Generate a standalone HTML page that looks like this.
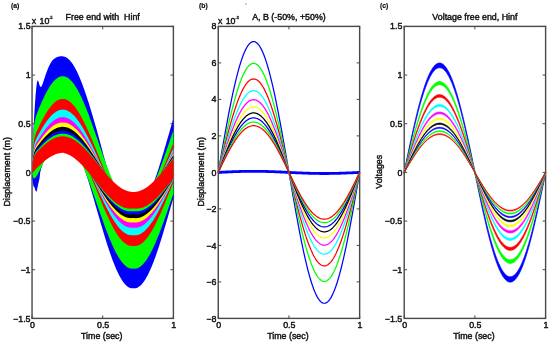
<!DOCTYPE html>
<html><head><meta charset="utf-8"><title>Figure</title>
<style>
html,body{margin:0;padding:0;background:#fff;}
body{width:550px;height:344px;overflow:hidden;}
svg{display:block;font-family:"Liberation Sans",sans-serif;font-size:8.85px;fill:#000;}
text{stroke:#1a1a1a;stroke-width:.45px;stroke-linejoin:round;}
</style></head><body>
<svg width="550" height="344" viewBox="0 0 550 344">
<rect width="550" height="344" fill="#fff"/>
<g style="filter:blur(.35px)">
<rect x="32.05" y="26.4" width="141.35" height="292" fill="none" stroke="#484848" stroke-width="1.4"/><path d="M32.05 26.4h3.0 M173.4 26.4h-3.0" stroke="#484848" stroke-width="1"/><text x="30.55" y="29.3" text-anchor="end">1.5</text><path d="M32.05 75.07h3.0 M173.4 75.07h-3.0" stroke="#484848" stroke-width="1"/><text x="30.55" y="78.04" text-anchor="end">1</text><path d="M32.05 123.73h3.0 M173.4 123.73h-3.0" stroke="#484848" stroke-width="1"/><text x="30.55" y="126.78" text-anchor="end">0.5</text><path d="M32.05 172.4h3.0 M173.4 172.4h-3.0" stroke="#484848" stroke-width="1"/><text x="30.55" y="175.53" text-anchor="end">0</text><path d="M32.05 221.07h3.0 M173.4 221.07h-3.0" stroke="#484848" stroke-width="1"/><text x="30.55" y="224.27" text-anchor="end">−0.5</text><path d="M32.05 269.73h3.0 M173.4 269.73h-3.0" stroke="#484848" stroke-width="1"/><text x="30.55" y="273.01" text-anchor="end">−1</text><path d="M32.05 318.4h3.0 M173.4 318.4h-3.0" stroke="#484848" stroke-width="1"/><text x="30.55" y="321.75" text-anchor="end">−1.5</text><path d="M32.05 318.4v-3.0 M32.05 26.4v3.0" stroke="#484848" stroke-width="1"/><text x="32.45" y="327.8" text-anchor="middle">0</text><path d="M102.73 318.4v-3.0 M102.73 26.4v3.0" stroke="#484848" stroke-width="1"/><text x="103.13" y="327.8" text-anchor="middle">0.5</text><path d="M173.4 318.4v-3.0 M173.4 26.4v3.0" stroke="#484848" stroke-width="1"/><text x="173.8" y="327.8" text-anchor="middle">1</text><text x="101.72" y="338.6" text-anchor="middle">Time (sec)</text><text x="102.72" y="20.3" text-anchor="middle" xml:space="preserve">Free end with  Hinf</text><text x="31.75" y="23.8" xml:space="preserve">x <tspan dx="0.85">10</tspan><tspan dy="-5.2" font-size="3.5">-5</tspan></text><text transform="translate(9.95 171.8) rotate(-90)" text-anchor="middle">Displacement (m)</text><text x="11" y="7.6" font-size="6.8" font-weight="bold" style="stroke-width:.15px">(a)</text>
<rect x="218.25" y="26.4" width="141.4" height="292" fill="none" stroke="#484848" stroke-width="1.4"/><path d="M218.25 26.4h3.0 M359.65 26.4h-3.0" stroke="#484848" stroke-width="1"/><text x="216.45" y="29.3" text-anchor="end">8</text><path d="M218.25 62.9h3.0 M359.65 62.9h-3.0" stroke="#484848" stroke-width="1"/><text x="216.45" y="65.86" text-anchor="end">6</text><path d="M218.25 99.4h3.0 M359.65 99.4h-3.0" stroke="#484848" stroke-width="1"/><text x="216.45" y="102.41" text-anchor="end">4</text><path d="M218.25 135.9h3.0 M359.65 135.9h-3.0" stroke="#484848" stroke-width="1"/><text x="216.45" y="138.97" text-anchor="end">2</text><path d="M218.25 172.4h3.0 M359.65 172.4h-3.0" stroke="#484848" stroke-width="1"/><text x="216.45" y="175.53" text-anchor="end">0</text><path d="M218.25 208.9h3.0 M359.65 208.9h-3.0" stroke="#484848" stroke-width="1"/><text x="216.45" y="212.08" text-anchor="end">−2</text><path d="M218.25 245.4h3.0 M359.65 245.4h-3.0" stroke="#484848" stroke-width="1"/><text x="216.45" y="248.64" text-anchor="end">−4</text><path d="M218.25 281.9h3.0 M359.65 281.9h-3.0" stroke="#484848" stroke-width="1"/><text x="216.45" y="285.19" text-anchor="end">−6</text><path d="M218.25 318.4h3.0 M359.65 318.4h-3.0" stroke="#484848" stroke-width="1"/><text x="216.45" y="321.75" text-anchor="end">−8</text><path d="M218.25 318.4v-3.0 M218.25 26.4v3.0" stroke="#484848" stroke-width="1"/><text x="218.65" y="327.8" text-anchor="middle">0</text><path d="M288.95 318.4v-3.0 M288.95 26.4v3.0" stroke="#484848" stroke-width="1"/><text x="289.35" y="327.8" text-anchor="middle">0.5</text><path d="M359.65 318.4v-3.0 M359.65 26.4v3.0" stroke="#484848" stroke-width="1"/><text x="360.05" y="327.8" text-anchor="middle">1</text><text x="287.95" y="338.6" text-anchor="middle">Time (sec)</text><text x="288.95" y="20.3" text-anchor="middle" xml:space="preserve">A, B (-50%, +50%)</text><text x="217.95" y="23.8" xml:space="preserve">x <tspan dx="0.85">10</tspan><tspan dy="-5.2" font-size="3.5">-3</tspan></text><text transform="translate(204 171.8) rotate(-90)" text-anchor="middle">Displacement (m)</text><text x="199" y="7.6" font-size="6.8" font-weight="bold" style="stroke-width:.15px">(b)</text>
<rect x="404.2" y="26.4" width="141.4" height="292" fill="none" stroke="#484848" stroke-width="1.4"/><path d="M404.2 26.4h3.0 M545.6 26.4h-3.0" stroke="#484848" stroke-width="1"/><text x="402.3" y="29.3" text-anchor="end">1.5</text><path d="M404.2 75.07h3.0 M545.6 75.07h-3.0" stroke="#484848" stroke-width="1"/><text x="402.3" y="78.04" text-anchor="end">1</text><path d="M404.2 123.73h3.0 M545.6 123.73h-3.0" stroke="#484848" stroke-width="1"/><text x="402.3" y="126.78" text-anchor="end">0.5</text><path d="M404.2 172.4h3.0 M545.6 172.4h-3.0" stroke="#484848" stroke-width="1"/><text x="402.3" y="175.53" text-anchor="end">0</text><path d="M404.2 221.07h3.0 M545.6 221.07h-3.0" stroke="#484848" stroke-width="1"/><text x="402.3" y="224.27" text-anchor="end">−0.5</text><path d="M404.2 269.73h3.0 M545.6 269.73h-3.0" stroke="#484848" stroke-width="1"/><text x="402.3" y="273.01" text-anchor="end">−1</text><path d="M404.2 318.4h3.0 M545.6 318.4h-3.0" stroke="#484848" stroke-width="1"/><text x="402.3" y="321.75" text-anchor="end">−1.5</text><path d="M404.2 318.4v-3.0 M404.2 26.4v3.0" stroke="#484848" stroke-width="1"/><text x="404.6" y="327.8" text-anchor="middle">0</text><path d="M474.9 318.4v-3.0 M474.9 26.4v3.0" stroke="#484848" stroke-width="1"/><text x="475.3" y="327.8" text-anchor="middle">0.5</text><path d="M545.6 318.4v-3.0 M545.6 26.4v3.0" stroke="#484848" stroke-width="1"/><text x="546" y="327.8" text-anchor="middle">1</text><text x="473.9" y="338.6" text-anchor="middle">Time (sec)</text><text x="474.9" y="20.3" text-anchor="middle" xml:space="preserve">Voltage free end, Hinf</text><text transform="translate(382.2 171.8) rotate(-90)" text-anchor="middle">Voltages</text><text x="380" y="7.6" font-size="6.8" font-weight="bold" style="stroke-width:.15px">(c)</text>
<g><polygon fill="#0000ff" points="32.8,160 33.2,180 34.4,187 35.6,191 36.6,191.8 37.8,186 39.6,178 41,165 38,150"/><polygon fill="#0000ff" points="32.05,172.02 32.76,146.54 33.46,129.35 34.17,116.39 34.88,105.36 35.58,95.52 36.29,87.42 37,82.15 37.7,80.31 38.41,81.33 39.12,83.72 39.82,85.89 40.53,86.92 41.24,86.65 41.94,85.42 42.65,83.65 43.36,81.63 44.06,79.54 44.77,77.44 45.48,75.37 46.19,73.36 46.89,71.42 47.6,69.57 48.31,67.82 49.01,66.2 49.72,64.72 50.43,63.39 51.13,62.21 51.84,61.18 52.55,60.29 53.25,59.54 53.96,58.91 54.67,58.38 55.37,57.94 56.08,57.57 56.79,57.26 57.49,57 58.2,56.79 58.91,56.61 59.61,56.47 60.32,56.36 61.03,56.3 61.73,56.28 62.44,56.31 63.15,56.39 63.85,56.53 64.56,56.73 65.27,57 65.97,57.33 66.68,57.74 67.39,58.21 68.09,58.76 68.8,59.38 69.51,60.07 70.21,60.84 70.92,61.68 71.63,62.59 72.33,63.57 73.04,64.62 73.75,65.73 74.46,66.92 75.16,68.17 75.87,69.49 76.58,70.87 77.28,72.32 77.99,73.82 78.7,75.39 79.4,77.01 80.11,78.69 80.82,80.43 81.52,82.21 82.23,84.05 82.94,85.94 83.64,87.88 84.35,89.87 85.06,91.89 85.76,93.96 86.47,96.07 87.18,98.22 87.88,100.4 88.59,102.62 89.3,104.87 90,107.14 90.71,109.45 91.42,111.78 92.12,114.13 92.83,116.5 93.54,118.89 94.24,121.29 94.95,123.71 95.66,126.14 96.36,128.6 97.07,131.1 97.78,133.65 98.48,136.23 99.19,138.84 99.9,141.47 100.6,144.11 101.31,146.75 102.02,149.39 102.73,152.03 103.43,154.65 104.14,157.24 104.85,159.81 105.55,162.34 106.26,164.82 106.97,167.25 107.67,169.63 108.38,171.94 109.09,174.18 109.79,176.35 110.5,178.45 111.21,180.51 111.91,182.53 112.62,184.5 113.33,186.43 114.03,188.31 114.74,190.14 115.45,191.92 116.15,193.64 116.86,195.31 117.57,196.92 118.27,198.47 118.98,199.95 119.69,201.36 120.39,202.71 121.1,203.99 121.81,205.2 122.51,206.33 123.22,207.4 123.93,208.39 124.63,209.31 125.34,210.16 126.05,210.93 126.75,211.62 127.46,212.24 128.17,212.78 128.87,213.24 129.58,213.63 130.29,213.94 131,214.17 131.7,214.32 132.41,214.4 133.12,214.39 133.82,214.31 134.53,214.15 135.24,213.91 135.94,213.6 136.65,213.21 137.36,212.74 138.06,212.2 138.77,211.58 139.48,210.88 140.18,210.12 140.89,209.28 141.6,208.36 142.3,207.38 143.01,206.33 143.72,205.21 144.42,204.02 145.13,202.76 145.84,201.44 146.54,200.06 147.25,198.61 147.96,197.11 148.66,195.54 149.37,193.92 150.08,192.24 150.78,190.51 151.49,188.73 152.2,186.89 152.9,185.01 153.61,183.09 154.32,181.11 155.02,179.1 155.73,177.05 156.44,174.96 157.14,172.83 157.85,170.67 158.56,168.48 159.27,166.26 159.97,164.01 160.68,161.73 161.39,159.43 162.09,157.1 162.8,154.75 163.51,152.38 164.21,149.99 164.92,147.59 165.63,145.17 166.33,142.74 167.04,140.31 167.75,137.86 168.45,135.42 169.16,132.97 169.87,130.53 170.57,128.09 171.28,125.65 171.99,123.23 172.69,120.81 173.4,118.41 173.4,197.85 172.69,200.28 171.99,202.71 171.28,205.15 170.57,207.6 169.87,210.04 169.16,212.49 168.45,214.94 167.75,217.38 167.04,219.82 166.33,222.24 165.63,224.66 164.92,227.06 164.21,229.44 163.51,231.8 162.8,234.15 162.09,236.47 161.39,238.76 160.68,241.03 159.97,243.26 159.27,245.47 158.56,247.64 157.85,249.77 157.14,251.86 156.44,253.91 155.73,255.92 155.02,257.89 154.32,259.8 153.61,261.67 152.9,263.49 152.2,265.26 151.49,266.97 150.78,268.62 150.08,270.22 149.37,271.76 148.66,273.24 147.96,274.65 147.25,276.01 146.54,277.29 145.84,278.52 145.13,279.67 144.42,280.76 143.72,281.77 143.01,282.72 142.3,283.59 141.6,284.4 140.89,285.13 140.18,285.78 139.48,286.36 138.77,286.87 138.06,287.3 137.36,287.66 136.65,287.93 135.94,288.14 135.24,288.26 134.53,288.31 133.82,288.28 133.12,288.27 132.41,288.31 131.7,288.28 131,288.17 130.29,287.98 129.58,287.72 128.87,287.38 128.17,286.96 127.46,286.47 126.75,285.9 126.05,285.26 125.34,284.55 124.63,283.76 123.93,282.9 123.22,281.97 122.51,280.97 121.81,279.89 121.1,278.75 120.39,277.54 119.69,276.27 118.98,274.93 118.27,273.53 117.57,272.06 116.86,270.53 116.15,268.95 115.45,267.3 114.74,265.6 114.03,263.85 113.33,262.04 112.62,260.18 111.91,258.27 111.21,256.32 110.5,254.32 109.79,252.27 109.09,250.19 108.38,248.07 107.67,245.9 106.97,243.71 106.26,241.48 105.55,239.22 104.85,236.93 104.14,234.61 103.43,232.27 102.73,229.91 102.02,227.53 101.31,225.14 100.6,222.73 99.9,220.3 99.19,217.87 98.48,215.43 97.78,212.98 97.07,210.53 96.36,208.09 95.66,205.64 94.95,203.2 94.24,200.76 93.54,198.34 92.83,195.92 92.12,193.53 91.42,191.14 90.71,188.78 90,186.44 89.3,184.12 88.59,181.83 87.88,179.56 87.18,177.33 86.47,175.13 85.76,172.96 85.06,170.83 84.35,168.74 83.64,166.69 82.94,164.68 82.23,162.72 81.52,160.81 80.82,158.94 80.11,157.13 79.4,155.36 78.7,153.66 77.99,152 77.28,150.41 76.58,148.87 75.87,147.4 75.16,145.99 74.46,144.64 73.75,143.35 73.04,142.14 72.33,140.99 71.63,139.9 70.92,138.89 70.21,137.95 69.51,137.08 68.8,136.28 68.09,135.55 67.39,134.9 66.68,134.33 65.97,133.82 65.27,133.4 64.56,133.05 63.85,132.77 63.15,132.58 62.44,132.54 61.73,132.73 61.03,132.99 60.32,133.32 59.61,133.73 58.91,134.22 58.2,134.78 57.49,135.42 56.79,136.13 56.08,136.91 55.37,137.77 54.67,138.7 53.96,139.7 53.25,140.76 52.55,141.9 51.84,143.11 51.13,144.38 50.43,145.71 49.72,147.11 49.01,148.57 48.31,150.1 47.6,151.68 46.89,153.32 46.19,155.02 45.48,156.77 44.77,158.58 44.06,160.43 43.36,162.34 42.65,164.29 41.94,166.29 41.24,168.33 40.53,170.41 39.82,172.53 39.12,174.68 38.41,176.86 37.7,179.03 37,181.19 36.29,183.26 35.58,185.13 34.88,186.59 34.17,187.22 33.46,186.25 32.76,182.22 32.05,172.4"/><polygon fill="#00ff00" points="32.05,172.4 32.76,145.08 33.46,131.73 34.17,124.72 34.88,120.57 35.58,117.72 36.29,115.46 37,113.47 37.7,111.63 38.41,109.85 39.12,108.12 39.82,106.43 40.53,104.76 41.24,103.13 41.94,101.54 42.65,99.97 43.36,98.45 44.06,96.96 44.77,95.51 45.48,94.1 46.19,92.74 46.89,91.42 47.6,90.15 48.31,88.92 49.01,87.75 49.72,86.62 50.43,85.55 51.13,84.53 51.84,83.57 52.55,82.66 53.25,81.81 53.96,81.01 54.67,80.28 55.37,79.6 56.08,78.98 56.79,78.42 57.49,77.93 58.2,77.5 58.91,77.12 59.61,76.82 60.32,76.57 61.03,76.39 61.73,76.27 62.44,76.21 63.15,76.22 63.85,76.3 64.56,76.43 65.27,76.63 65.97,76.9 66.68,77.22 67.39,77.61 68.09,78.06 68.8,78.58 69.51,79.15 70.21,79.79 70.92,80.49 71.63,81.25 72.33,82.06 73.04,82.94 73.75,83.87 74.46,84.86 75.16,85.9 75.87,87 76.58,88.15 77.28,89.35 77.99,90.61 78.7,91.91 79.4,93.26 80.11,94.67 80.82,96.11 81.52,97.6 82.23,99.14 82.94,100.71 83.64,102.32 84.35,103.98 85.06,105.67 85.76,107.39 86.47,109.15 87.18,110.94 87.88,112.76 88.59,114.61 89.3,116.48 90,118.38 90.71,120.3 91.42,122.24 92.12,124.2 92.83,126.17 93.54,128.16 94.24,130.17 94.95,132.18 95.66,134.21 96.36,136.24 97.07,138.27 97.78,140.31 98.48,142.35 99.19,144.38 99.9,146.42 100.6,148.45 101.31,150.47 102.02,152.48 102.73,154.48 103.43,156.47 104.14,158.44 104.85,160.4 105.55,162.33 106.26,164.25 106.97,166.14 107.67,168.01 108.38,169.85 109.09,171.67 109.79,173.45 110.5,175.2 111.21,176.92 111.91,178.6 112.62,180.25 113.33,181.85 114.03,183.42 114.74,184.95 115.45,186.43 116.15,187.86 116.86,189.25 117.57,190.6 118.27,191.9 118.98,193.16 119.69,194.36 120.39,195.52 121.1,196.63 121.81,197.69 122.51,198.7 123.22,199.65 123.93,200.55 124.63,201.39 125.34,202.18 126.05,202.91 126.75,203.58 127.46,204.19 128.17,204.74 128.87,205.24 129.58,205.67 130.29,206.04 131,206.35 131.7,206.6 132.41,206.78 133.12,206.9 133.82,206.96 134.53,206.96 135.24,206.89 135.94,206.76 136.65,206.56 137.36,206.31 138.06,205.99 138.77,205.6 139.48,205.16 140.18,204.65 140.89,204.08 141.6,203.45 142.3,202.76 143.01,202.01 143.72,201.2 144.42,200.33 145.13,199.41 145.84,198.42 146.54,197.38 147.25,196.29 147.96,195.14 148.66,193.94 149.37,192.68 150.08,191.38 150.78,190.02 151.49,188.62 152.2,187.17 152.9,185.67 153.61,184.13 154.32,182.54 155.02,180.92 155.73,179.25 156.44,177.54 157.14,175.8 157.85,174.02 158.56,172.21 159.27,170.37 159.97,168.49 160.68,166.59 161.39,164.67 162.09,162.73 162.8,160.77 163.51,158.8 164.21,156.81 164.92,154.8 165.63,152.79 166.33,150.77 167.04,148.74 167.75,146.7 168.45,144.66 169.16,142.63 169.87,140.59 170.57,138.55 171.28,136.53 171.99,134.5 172.69,132.49 173.4,130.49 173.4,193.84 172.69,195.87 171.99,197.9 171.28,199.93 170.57,201.97 169.87,204.01 169.16,206.05 168.45,208.09 167.75,210.13 167.04,212.16 166.33,214.18 165.63,216.18 164.92,218.18 164.21,220.16 163.51,222.13 162.8,224.08 162.09,226.01 161.39,227.91 160.68,229.8 159.97,231.65 159.27,233.48 158.56,235.28 157.85,237.05 157.14,238.78 156.44,240.48 155.73,242.15 155.02,243.77 154.32,245.36 153.61,246.91 152.9,248.41 152.2,249.87 151.49,251.28 150.78,252.65 150.08,253.96 149.37,255.23 148.66,256.45 147.96,257.62 147.25,258.73 146.54,259.79 145.84,260.79 145.13,261.73 144.42,262.62 143.72,263.45 143.01,264.22 142.3,264.94 141.6,265.59 140.89,266.18 140.18,266.71 139.48,267.17 138.77,267.58 138.06,267.92 137.36,268.19 136.65,268.41 135.94,268.56 135.24,268.64 134.53,268.66 133.82,268.62 133.12,268.61 132.41,268.66 131.7,268.65 131,268.58 130.29,268.44 129.58,268.24 128.87,267.98 128.17,267.65 127.46,267.26 126.75,266.8 126.05,266.29 125.34,265.71 124.63,265.07 123.93,264.37 123.22,263.61 122.51,262.79 121.81,261.92 121.1,260.98 120.39,259.99 119.69,258.94 118.98,257.84 118.27,256.69 117.57,255.48 116.86,254.22 116.15,252.91 115.45,251.56 114.74,250.15 114.03,248.7 113.33,247.21 112.62,245.67 111.91,244.09 111.21,242.48 110.5,240.82 109.79,239.13 109.09,237.4 108.38,235.64 107.67,233.84 106.97,232.02 106.26,230.17 105.55,228.29 104.85,226.39 104.14,224.47 103.43,222.52 102.73,220.56 102.02,218.58 101.31,216.58 100.6,214.58 99.9,212.56 99.19,210.53 98.48,208.5 97.78,206.46 97.07,204.42 96.36,202.38 95.66,200.34 94.95,198.3 94.24,196.27 93.54,194.25 92.83,192.23 92.12,190.23 91.42,188.24 90.71,186.26 90,184.3 89.3,182.36 88.59,180.45 87.88,178.55 87.18,176.68 86.47,174.84 85.76,173.02 85.06,171.24 84.35,169.48 83.64,167.77 82.94,166.08 82.23,164.44 81.52,162.83 80.82,161.26 80.11,159.73 79.4,158.25 78.7,156.81 77.99,155.42 77.28,154.08 76.58,152.78 75.87,151.54 75.16,150.35 74.46,149.21 73.75,148.12 73.04,147.09 72.33,146.11 71.63,145.19 70.92,144.33 70.21,143.53 69.51,142.78 68.8,142.1 68.09,141.48 67.39,140.92 66.68,140.42 65.97,139.98 65.27,139.6 64.56,139.29 63.85,139.04 63.15,138.86 62.44,138.83 61.73,139 61.03,139.23 60.32,139.52 59.61,139.88 58.91,140.3 58.2,140.78 57.49,141.33 56.79,141.93 56.08,142.59 55.37,143.32 54.67,144.1 53.96,144.93 53.25,145.83 52.55,146.77 51.84,147.77 51.13,148.82 50.43,149.92 49.72,151.07 49.01,152.26 48.31,153.5 47.6,154.78 46.89,156.09 46.19,157.44 45.48,158.82 44.77,160.22 44.06,161.65 43.36,163.1 42.65,164.55 41.94,166.01 41.24,167.47 40.53,168.91 39.82,170.33 39.12,171.71 38.41,173.05 37.7,174.32 37,175.51 36.29,176.58 35.58,177.49 34.88,178.16 34.17,178.44 33.46,178.05 32.76,176.4 32.05,172.4"/><polygon fill="#00ff00" points="33,165 33.2,175.5 35,174 37.5,169 39,165"/><polygon fill="#ff0000" points="32.05,172.4 32.76,153.94 33.46,144.67 34.17,139.61 34.88,136.48 35.58,134.22 36.29,132.37 37,130.72 37.7,129.15 38.41,127.65 39.12,126.17 39.82,124.73 40.53,123.31 41.24,121.92 41.94,120.56 42.65,119.22 43.36,117.92 44.06,116.64 44.77,115.4 45.48,114.2 46.19,113.03 46.89,111.91 47.6,110.82 48.31,109.77 49.01,108.76 49.72,107.8 50.43,106.88 51.13,106.01 51.84,105.19 52.55,104.41 53.25,103.68 53.96,103 54.67,102.37 55.37,101.79 56.08,101.26 56.79,100.78 57.49,100.36 58.2,99.99 58.91,99.67 59.61,99.41 60.32,99.2 61.03,99.04 61.73,98.94 62.44,98.89 63.15,98.9 63.85,98.96 64.56,99.08 65.27,99.25 65.97,99.48 66.68,99.76 67.39,100.09 68.09,100.48 68.8,100.92 69.51,101.41 70.21,101.96 70.92,102.56 71.63,103.21 72.33,103.91 73.04,104.66 73.75,105.46 74.46,106.3 75.16,107.2 75.87,108.14 76.58,109.13 77.28,110.16 77.99,111.23 78.7,112.35 79.4,113.51 80.11,114.71 80.82,115.95 81.52,117.23 82.23,118.54 82.94,119.89 83.64,121.28 84.35,122.69 85.06,124.14 85.76,125.62 86.47,127.13 87.18,128.66 87.88,130.22 88.59,131.8 89.3,133.41 90,135.04 90.71,136.68 91.42,138.34 92.12,140.02 92.83,141.72 93.54,143.42 94.24,145.14 94.95,146.87 95.66,148.6 96.36,150.34 97.07,152.09 97.78,153.83 98.48,155.58 99.19,157.33 99.9,159.07 100.6,160.81 101.31,162.54 102.02,164.27 102.73,165.98 103.43,167.69 104.14,169.38 104.85,171.05 105.55,172.71 106.26,174.36 106.97,175.98 107.67,177.58 108.38,179.16 109.09,180.71 109.79,182.24 110.5,183.74 111.21,185.21 111.91,186.66 112.62,188.07 113.33,189.44 114.03,190.79 114.74,192.09 115.45,193.36 116.15,194.6 116.86,195.79 117.57,196.94 118.27,198.05 118.98,199.11 119.69,200.14 120.39,201.11 121.1,202.05 121.81,202.93 122.51,203.77 123.22,204.56 123.93,205.3 124.63,205.98 125.34,206.62 126.05,207.21 126.75,207.74 127.46,208.23 128.17,208.66 128.87,209.03 129.58,209.35 130.29,209.62 131,209.83 131.7,209.99 132.41,210.1 133.12,210.15 133.82,210.14 134.53,210.08 135.24,209.97 135.94,209.8 136.65,209.57 137.36,209.29 138.06,208.96 138.77,208.57 139.48,208.13 140.18,207.64 140.89,207.1 141.6,206.5 142.3,205.85 143.01,205.15 143.72,204.4 144.42,203.6 145.13,202.76 145.84,201.86 146.54,200.92 147.25,199.94 147.96,198.9 148.66,197.83 149.37,196.71 150.08,195.55 150.78,194.35 151.49,193.11 152.2,191.84 152.9,190.52 153.61,189.17 154.32,187.79 155.02,186.37 155.73,184.92 156.44,183.44 157.14,181.94 157.85,180.4 158.56,178.84 159.27,177.26 159.97,175.66 160.68,174.03 161.39,172.38 162.09,170.72 162.8,169.04 163.51,167.35 164.21,165.64 164.92,163.92 165.63,162.2 166.33,160.46 167.04,158.72 167.75,156.98 168.45,155.23 169.16,153.48 169.87,151.74 170.57,149.99 171.28,148.26 171.99,146.52 172.69,144.8 173.4,143.08 173.4,182.34 172.69,184.08 171.99,185.82 171.28,187.57 170.57,189.32 169.87,191.07 169.16,192.82 168.45,194.57 167.75,196.31 167.04,198.05 166.33,199.78 165.63,201.5 164.92,203.21 164.21,204.9 163.51,206.59 162.8,208.25 162.09,209.9 161.39,211.53 160.68,213.14 159.97,214.72 159.27,216.28 158.56,217.82 157.85,219.33 157.14,220.81 156.44,222.26 155.73,223.67 155.02,225.06 154.32,226.41 153.61,227.72 152.9,229 152.2,230.24 151.49,231.44 150.78,232.6 150.08,233.72 149.37,234.79 148.66,235.83 147.96,236.81 147.25,237.75 146.54,238.64 145.84,239.49 145.13,240.29 144.42,241.03 143.72,241.73 143.01,242.38 142.3,242.97 141.6,243.52 140.89,244.01 140.18,244.45 139.48,244.83 138.77,245.16 138.06,245.44 137.36,245.66 136.65,245.83 135.94,245.94 135.24,246 134.53,246 133.82,245.94 133.12,245.93 132.41,245.99 131.7,246 131,245.95 130.29,245.85 129.58,245.7 128.87,245.49 128.17,245.22 127.46,244.9 126.75,244.53 126.05,244.1 125.34,243.62 124.63,243.09 123.93,242.5 123.22,241.87 122.51,241.18 121.81,240.44 121.1,239.65 120.39,238.82 119.69,237.93 118.98,237 118.27,236.03 117.57,235 116.86,233.94 116.15,232.83 115.45,231.68 114.74,230.49 114.03,229.25 113.33,227.98 112.62,226.68 111.91,225.33 111.21,223.95 110.5,222.54 109.79,221.1 109.09,219.63 108.38,218.12 107.67,216.59 106.97,215.04 106.26,213.46 105.55,211.85 104.85,210.23 104.14,208.58 103.43,206.92 102.73,205.24 102.02,203.55 101.31,201.84 100.6,200.12 99.9,198.39 99.19,196.66 98.48,194.92 97.78,193.17 97.07,191.42 96.36,189.67 95.66,187.92 94.95,186.17 94.24,184.43 93.54,182.69 92.83,180.96 92.12,179.24 91.42,177.53 90.71,175.83 90,174.14 89.3,172.48 88.59,170.83 87.88,169.19 87.18,167.58 86.47,166 85.76,164.43 85.06,162.89 84.35,161.38 83.64,159.9 82.94,158.45 82.23,157.02 81.52,155.64 80.82,154.28 80.11,152.96 79.4,151.68 78.7,150.44 77.99,149.23 77.28,148.07 76.58,146.94 75.87,145.86 75.16,144.83 74.46,143.84 73.75,142.89 73.04,141.99 72.33,141.14 71.63,140.34 70.92,139.58 70.21,138.88 69.51,138.23 68.8,137.63 68.09,137.08 67.39,136.58 66.68,136.14 65.97,135.75 65.27,135.41 64.56,135.13 63.85,134.9 63.15,134.73 62.44,134.64 61.73,134.72 61.03,134.86 60.32,135.04 59.61,135.27 58.91,135.55 58.2,135.88 57.49,136.26 56.79,136.69 56.08,137.17 55.37,137.7 54.67,138.27 53.96,138.9 53.25,139.57 52.55,140.29 51.84,141.06 51.13,141.87 50.43,142.73 49.72,143.63 49.01,144.57 48.31,145.55 47.6,146.58 46.89,147.64 46.19,148.75 45.48,149.89 44.77,151.06 44.06,152.27 43.36,153.52 42.65,154.8 41.94,156.1 41.24,157.44 40.53,158.8 39.82,160.2 39.12,161.61 38.41,163.05 37.7,164.52 37,166.01 36.29,167.52 35.58,169.06 34.88,170.06 34.17,170.83 33.46,171.59 32.76,172.25 32.05,172.4"/><polygon fill="#00ffff" points="32.05,172.4 32.76,157.03 33.46,149.27 34.17,145 34.88,142.33 35.58,140.4 36.29,138.8 37,137.37 37.7,136.01 38.41,134.7 39.12,133.42 39.82,132.16 40.53,130.92 41.24,129.71 41.94,128.52 42.65,127.35 43.36,126.22 44.06,125.11 44.77,124.02 45.48,122.97 46.19,121.95 46.89,120.97 47.6,120.02 48.31,119.1 49.01,118.23 49.72,117.39 50.43,116.58 51.13,115.82 51.84,115.1 52.55,114.42 53.25,113.78 53.96,113.19 54.67,112.64 55.37,112.13 56.08,111.67 56.79,111.25 57.49,110.88 58.2,110.56 58.91,110.28 59.61,110.05 60.32,109.87 61.03,109.73 61.73,109.64 62.44,109.6 63.15,109.61 63.85,109.66 64.56,109.76 65.27,109.92 65.97,110.11 66.68,110.36 67.39,110.65 68.09,110.99 68.8,111.38 69.51,111.81 70.21,112.29 70.92,112.81 71.63,113.38 72.33,113.99 73.04,114.64 73.75,115.34 74.46,116.08 75.16,116.87 75.87,117.69 76.58,118.55 77.28,119.46 77.99,120.4 78.7,121.38 79.4,122.39 80.11,123.44 80.82,124.53 81.52,125.65 82.23,126.8 82.94,127.98 83.64,129.19 84.35,130.43 85.06,131.69 85.76,132.99 86.47,134.31 87.18,135.65 87.88,137.01 88.59,138.4 89.3,139.8 90,141.23 90.71,142.67 91.42,144.12 92.12,145.59 92.83,147.07 93.54,148.57 94.24,150.07 94.95,151.58 95.66,153.1 96.36,154.62 97.07,156.15 97.78,157.67 98.48,159.2 99.19,160.73 99.9,162.26 100.6,163.78 101.31,165.3 102.02,166.8 102.73,168.31 103.43,169.8 104.14,171.28 104.85,172.74 105.55,174.2 106.26,175.63 106.97,177.05 107.67,178.45 108.38,179.83 109.09,181.19 109.79,182.53 110.5,183.85 111.21,185.13 111.91,186.4 112.62,187.63 113.33,188.83 114.03,190.01 114.74,191.15 115.45,192.26 116.15,193.34 116.86,194.38 117.57,195.39 118.27,196.36 118.98,197.3 119.69,198.19 120.39,199.05 121.1,199.86 121.81,200.64 122.51,201.37 123.22,202.06 123.93,202.7 124.63,203.31 125.34,203.87 126.05,204.38 126.75,204.85 127.46,205.27 128.17,205.64 128.87,205.97 129.58,206.25 130.29,206.49 131,206.68 131.7,206.82 132.41,206.91 133.12,206.95 133.82,206.94 134.53,206.89 135.24,206.79 135.94,206.64 136.65,206.45 137.36,206.2 138.06,205.91 138.77,205.57 139.48,205.19 140.18,204.76 140.89,204.28 141.6,203.76 142.3,203.19 143.01,202.58 143.72,201.92 144.42,201.22 145.13,200.48 145.84,199.7 146.54,198.88 147.25,198.02 147.96,197.11 148.66,196.17 149.37,195.19 150.08,194.18 150.78,193.13 151.49,192.04 152.2,190.93 152.9,189.78 153.61,188.6 154.32,187.38 155.02,186.15 155.73,184.88 156.44,183.58 157.14,182.27 157.85,180.92 158.56,179.56 159.27,178.17 159.97,176.77 160.68,175.35 161.39,173.91 162.09,172.45 162.8,170.98 163.51,169.5 164.21,168.01 164.92,166.5 165.63,164.99 166.33,163.48 167.04,161.95 167.75,160.43 168.45,158.9 169.16,157.37 169.87,155.84 170.57,154.32 171.28,152.79 171.99,151.28 172.69,149.77 173.4,148.27 173.4,180.02 172.69,181.54 171.99,183.07 171.28,184.6 170.57,186.13 169.87,187.66 169.16,189.2 168.45,190.73 167.75,192.25 167.04,193.77 166.33,195.28 165.63,196.79 164.92,198.28 164.21,199.76 163.51,201.23 162.8,202.68 162.09,204.12 161.39,205.54 160.68,206.95 159.97,208.33 159.27,209.69 158.56,211.03 157.85,212.34 157.14,213.63 156.44,214.89 155.73,216.12 155.02,217.32 154.32,218.5 153.61,219.64 152.9,220.75 152.2,221.82 151.49,222.87 150.78,223.87 150.08,224.84 149.37,225.77 148.66,226.66 147.96,227.51 147.25,228.32 146.54,229.09 145.84,229.82 145.13,230.5 144.42,231.15 143.72,231.74 143.01,232.3 142.3,232.81 141.6,233.27 140.89,233.68 140.18,234.05 139.48,234.38 138.77,234.65 138.06,234.88 137.36,235.06 136.65,235.19 135.94,235.28 135.24,235.31 134.53,235.3 133.82,235.24 133.12,235.22 132.41,235.29 131.7,235.31 131,235.29 130.29,235.21 129.58,235.09 128.87,234.92 128.17,234.7 127.46,234.43 126.75,234.12 126.05,233.76 125.34,233.35 124.63,232.9 123.93,232.4 123.22,231.86 122.51,231.27 121.81,230.64 121.1,229.96 120.39,229.24 119.69,228.48 118.98,227.68 118.27,226.83 117.57,225.95 116.86,225.03 116.15,224.07 115.45,223.07 114.74,222.04 114.03,220.97 113.33,219.86 112.62,218.73 111.91,217.56 111.21,216.36 110.5,215.14 109.79,213.88 109.09,212.6 108.38,211.29 107.67,209.96 106.97,208.6 106.26,207.22 105.55,205.83 104.85,204.41 104.14,202.97 103.43,201.52 102.73,200.06 102.02,198.58 101.31,197.09 100.6,195.58 99.9,194.07 99.19,192.56 98.48,191.03 97.78,189.5 97.07,187.97 96.36,186.44 95.66,184.91 94.95,183.37 94.24,181.85 93.54,180.32 92.83,178.81 92.12,177.3 91.42,175.8 90.71,174.3 90,172.83 89.3,171.36 88.59,169.91 87.88,168.48 87.18,167.06 86.47,165.67 85.76,164.29 85.06,162.94 84.35,161.61 83.64,160.3 82.94,159.02 82.23,157.77 81.52,156.54 80.82,155.35 80.11,154.19 79.4,153.05 78.7,151.95 77.99,150.89 77.28,149.86 76.58,148.86 75.87,147.91 75.16,146.99 74.46,146.11 73.75,145.27 73.04,144.47 72.33,143.71 71.63,143 70.92,142.33 70.21,141.7 69.51,141.11 68.8,140.57 68.09,140.08 67.39,139.63 66.68,139.23 65.97,138.87 65.27,138.56 64.56,138.3 63.85,138.09 63.15,137.92 62.44,137.84 61.73,137.92 61.03,138.04 60.32,138.2 59.61,138.4 58.91,138.65 58.2,138.94 57.49,139.27 56.79,139.64 56.08,140.06 55.37,140.53 54.67,141.03 53.96,141.58 53.25,142.16 52.55,142.79 51.84,143.46 51.13,144.17 50.43,144.91 49.72,145.7 49.01,146.52 48.31,147.37 47.6,148.26 46.89,149.19 46.19,150.15 45.48,151.14 44.77,152.16 44.06,153.22 43.36,154.3 42.65,155.41 41.94,156.54 41.24,157.7 40.53,158.89 39.82,160.09 39.12,161.32 38.41,162.57 37.7,163.85 37,165.14 36.29,166.46 35.58,167.8 34.88,169.18 34.17,170.56 33.46,171.59 32.76,172.25 32.05,172.4"/><polygon fill="#ff00ff" points="32.05,172.4 32.76,159.02 33.46,152.25 34.17,148.52 34.88,146.18 35.58,144.48 36.29,143.08 37,141.81 37.7,140.61 38.41,139.45 39.12,138.32 39.82,137.2 40.53,136.11 41.24,135.03 41.94,133.98 42.65,132.95 43.36,131.94 44.06,130.95 44.77,129.99 45.48,129.06 46.19,128.16 46.89,127.28 47.6,126.44 48.31,125.63 49.01,124.85 49.72,124.1 50.43,123.39 51.13,122.72 51.84,122.08 52.55,121.47 53.25,120.91 53.96,120.38 54.67,119.89 55.37,119.44 56.08,119.03 56.79,118.66 57.49,118.33 58.2,118.04 58.91,117.8 59.61,117.59 60.32,117.43 61.03,117.31 61.73,117.23 62.44,117.19 63.15,117.2 63.85,117.25 64.56,117.34 65.27,117.47 65.97,117.65 66.68,117.87 67.39,118.13 68.09,118.43 68.8,118.77 69.51,119.16 70.21,119.58 70.92,120.05 71.63,120.55 72.33,121.1 73.04,121.68 73.75,122.3 74.46,122.96 75.16,123.65 75.87,124.39 76.58,125.15 77.28,125.96 77.99,126.79 78.7,127.66 79.4,128.56 80.11,129.5 80.82,130.46 81.52,131.46 82.23,132.48 82.94,133.53 83.64,134.61 84.35,135.71 85.06,136.83 85.76,137.98 86.47,139.16 87.18,140.35 87.88,141.56 88.59,142.79 89.3,144.04 90,145.31 90.71,146.59 91.42,147.88 92.12,149.19 92.83,150.5 93.54,151.83 94.24,153.17 94.95,154.51 95.66,155.86 96.36,157.21 97.07,158.57 97.78,159.93 98.48,161.29 99.19,162.64 99.9,164 100.6,165.35 101.31,166.7 102.02,168.04 102.73,169.38 103.43,170.7 104.14,172.02 104.85,173.32 105.55,174.61 106.26,175.89 106.97,177.15 107.67,178.4 108.38,179.62 109.09,180.83 109.79,182.02 110.5,183.19 111.21,184.34 111.91,185.46 112.62,186.55 113.33,187.62 114.03,188.67 114.74,189.69 115.45,190.67 116.15,191.63 116.86,192.56 117.57,193.45 118.27,194.32 118.98,195.15 119.69,195.94 120.39,196.7 121.1,197.43 121.81,198.11 122.51,198.77 123.22,199.38 123.93,199.95 124.63,200.49 125.34,200.99 126.05,201.44 126.75,201.86 127.46,202.23 128.17,202.57 128.87,202.86 129.58,203.11 130.29,203.32 131,203.48 131.7,203.61 132.41,203.69 133.12,203.73 133.82,203.72 134.53,203.68 135.24,203.59 135.94,203.45 136.65,203.28 137.36,203.06 138.06,202.8 138.77,202.5 139.48,202.16 140.18,201.78 140.89,201.35 141.6,200.89 142.3,200.39 143.01,199.84 143.72,199.26 144.42,198.64 145.13,197.98 145.84,197.28 146.54,196.55 147.25,195.79 147.96,194.98 148.66,194.15 149.37,193.28 150.08,192.38 150.78,191.44 151.49,190.48 152.2,189.48 152.9,188.46 153.61,187.41 154.32,186.34 155.02,185.23 155.73,184.11 156.44,182.96 157.14,181.79 157.85,180.59 158.56,179.38 159.27,178.15 159.97,176.9 160.68,175.64 161.39,174.36 162.09,173.06 162.8,171.76 163.51,170.44 164.21,169.11 164.92,167.77 165.63,166.43 166.33,165.08 167.04,163.73 167.75,162.37 168.45,161.01 169.16,159.66 169.87,158.3 170.57,156.94 171.28,155.59 171.99,154.24 172.69,152.9 173.4,151.57 173.4,178.95 172.69,180.3 171.99,181.66 171.28,183.02 170.57,184.39 169.87,185.75 169.16,187.11 168.45,188.47 167.75,189.83 167.04,191.18 166.33,192.52 165.63,193.86 164.92,195.18 164.21,196.5 163.51,197.8 162.8,199.09 162.09,200.36 161.39,201.62 160.68,202.87 159.97,204.09 159.27,205.29 158.56,206.48 157.85,207.64 157.14,208.78 156.44,209.89 155.73,210.98 155.02,212.04 154.32,213.08 153.61,214.09 152.9,215.07 152.2,216.01 151.49,216.93 150.78,217.81 150.08,218.67 149.37,219.48 148.66,220.26 147.96,221.01 147.25,221.72 146.54,222.4 145.84,223.03 145.13,223.63 144.42,224.19 143.72,224.71 143.01,225.19 142.3,225.63 141.6,226.03 140.89,226.39 140.18,226.71 139.48,226.98 138.77,227.21 138.06,227.4 137.36,227.55 136.65,227.66 135.94,227.72 135.24,227.74 134.53,227.71 133.82,227.65 133.12,227.63 132.41,227.7 131.7,227.74 131,227.73 130.29,227.67 129.58,227.58 128.87,227.44 128.17,227.25 127.46,227.03 126.75,226.76 126.05,226.46 125.34,226.11 124.63,225.71 123.93,225.28 123.22,224.81 122.51,224.3 121.81,223.75 121.1,223.16 120.39,222.53 119.69,221.86 118.98,221.16 118.27,220.42 117.57,219.64 116.86,218.83 116.15,217.99 115.45,217.11 114.74,216.2 114.03,215.26 113.33,214.29 112.62,213.28 111.91,212.25 111.21,211.2 110.5,210.11 109.79,209 109.09,207.87 108.38,206.71 107.67,205.53 106.97,204.33 106.26,203.11 105.55,201.87 104.85,200.62 104.14,199.35 103.43,198.06 102.73,196.76 102.02,195.45 101.31,194.12 100.6,192.79 99.9,191.45 99.19,190.1 98.48,188.74 97.78,187.39 97.07,186.02 96.36,184.66 95.66,183.3 94.95,181.94 94.24,180.57 93.54,179.22 92.83,177.87 92.12,176.52 91.42,175.18 90.71,173.86 90,172.54 89.3,171.23 88.59,169.94 87.88,168.66 87.18,167.39 86.47,166.15 85.76,164.92 85.06,163.71 84.35,162.52 83.64,161.35 82.94,160.21 82.23,159.08 81.52,157.99 80.82,156.92 80.11,155.87 79.4,154.86 78.7,153.87 77.99,152.91 77.28,151.99 76.58,151.09 75.87,150.23 75.16,149.41 74.46,148.61 73.75,147.86 73.04,147.14 72.33,146.45 71.63,145.8 70.92,145.19 70.21,144.62 69.51,144.09 68.8,143.6 68.09,143.15 67.39,142.74 66.68,142.37 65.97,142.04 65.27,141.75 64.56,141.51 63.85,141.31 63.15,141.15 62.44,141.06 61.73,141.13 61.03,141.24 60.32,141.39 59.61,141.57 58.91,141.79 58.2,142.05 57.49,142.35 56.79,142.68 56.08,143.05 55.37,143.46 54.67,143.91 53.96,144.39 53.25,144.91 52.55,145.47 51.84,146.06 51.13,146.69 50.43,147.35 49.72,148.04 49.01,148.77 48.31,149.52 47.6,150.31 46.89,151.13 46.19,151.98 45.48,152.85 44.77,153.75 44.06,154.68 43.36,155.64 42.65,156.61 41.94,157.62 41.24,158.64 40.53,159.68 39.82,160.75 39.12,161.83 38.41,162.93 37.7,164.05 37,165.2 36.29,166.36 35.58,167.55 34.88,168.78 34.17,170.03 33.46,171.27 32.76,172.25 32.05,172.4"/><polygon fill="#ffff00" points="32.05,172.4 32.76,160.15 33.46,153.98 34.17,150.59 34.88,148.48 35.58,146.95 36.29,145.68 37,144.55 37.7,143.47 38.41,142.44 39.12,141.42 39.82,140.42 40.53,139.44 41.24,138.48 41.94,137.53 42.65,136.6 43.36,135.7 44.06,134.81 44.77,133.95 45.48,133.12 46.19,132.3 46.89,131.52 47.6,130.76 48.31,130.03 49.01,129.33 49.72,128.66 50.43,128.02 51.13,127.41 51.84,126.84 52.55,126.3 53.25,125.79 53.96,125.31 54.67,124.87 55.37,124.47 56.08,124.1 56.79,123.77 57.49,123.47 58.2,123.21 58.91,122.99 59.61,122.81 60.32,122.66 61.03,122.55 61.73,122.48 62.44,122.45 63.15,122.46 63.85,122.5 64.56,122.58 65.27,122.7 65.97,122.86 66.68,123.06 67.39,123.29 68.09,123.56 68.8,123.87 69.51,124.22 70.21,124.6 70.92,125.02 71.63,125.47 72.33,125.96 73.04,126.49 73.75,127.05 74.46,127.64 75.16,128.27 75.87,128.92 76.58,129.62 77.28,130.34 77.99,131.09 78.7,131.87 79.4,132.69 80.11,133.53 80.82,134.39 81.52,135.29 82.23,136.21 82.94,137.15 83.64,138.12 84.35,139.11 85.06,140.13 85.76,141.16 86.47,142.22 87.18,143.29 87.88,144.38 88.59,145.49 89.3,146.61 90,147.75 90.71,148.91 91.42,150.07 92.12,151.25 92.83,152.43 93.54,153.63 94.24,154.83 94.95,156.04 95.66,157.25 96.36,158.47 97.07,159.69 97.78,160.91 98.48,162.14 99.19,163.36 99.9,164.58 100.6,165.8 101.31,167.01 102.02,168.22 102.73,169.42 103.43,170.61 104.14,171.79 104.85,172.97 105.55,174.13 106.26,175.28 106.97,176.41 107.67,177.53 108.38,178.64 109.09,179.73 109.79,180.8 110.5,181.85 111.21,182.88 111.91,183.89 112.62,184.88 113.33,185.84 114.03,186.78 114.74,187.69 115.45,188.58 116.15,189.45 116.86,190.28 117.57,191.09 118.27,191.86 118.98,192.61 119.69,193.32 120.39,194.01 121.1,194.66 121.81,195.28 122.51,195.87 123.22,196.42 123.93,196.94 124.63,197.42 125.34,197.86 126.05,198.28 126.75,198.65 127.46,198.99 128.17,199.29 128.87,199.55 129.58,199.78 130.29,199.96 131,200.11 131.7,200.22 132.41,200.3 133.12,200.33 133.82,200.33 134.53,200.29 135.24,200.2 135.94,200.09 136.65,199.93 137.36,199.73 138.06,199.5 138.77,199.23 139.48,198.92 140.18,198.58 140.89,198.2 141.6,197.78 142.3,197.32 143.01,196.83 143.72,196.31 144.42,195.75 145.13,195.16 145.84,194.53 146.54,193.87 147.25,193.18 147.96,192.46 148.66,191.71 149.37,190.93 150.08,190.12 150.78,189.28 151.49,188.41 152.2,187.51 152.9,186.59 153.61,185.65 154.32,184.68 155.02,183.69 155.73,182.67 156.44,181.64 157.14,180.58 157.85,179.51 158.56,178.42 159.27,177.31 159.97,176.19 160.68,175.05 161.39,173.9 162.09,172.73 162.8,171.56 163.51,170.37 164.21,169.18 164.92,167.97 165.63,166.77 166.33,165.55 167.04,164.33 167.75,163.11 168.45,161.89 169.16,160.67 169.87,159.45 170.57,158.22 171.28,157.01 171.99,155.79 172.69,154.59 173.4,153.39 173.4,178.91 172.69,180.13 171.99,181.36 171.28,182.58 170.57,183.81 169.87,185.04 169.16,186.27 168.45,187.49 167.75,188.71 167.04,189.92 166.33,191.13 165.63,192.33 164.92,193.52 164.21,194.7 163.51,195.87 162.8,197.03 162.09,198.18 161.39,199.3 160.68,200.42 159.97,201.52 159.27,202.6 158.56,203.66 157.85,204.7 157.14,205.72 156.44,206.71 155.73,207.69 155.02,208.64 154.32,209.56 153.61,210.46 152.9,211.34 152.2,212.18 151.49,213 150.78,213.79 150.08,214.54 149.37,215.27 148.66,215.97 147.96,216.63 147.25,217.26 146.54,217.86 145.84,218.42 145.13,218.95 144.42,219.44 143.72,219.9 143.01,220.32 142.3,220.71 141.6,221.06 140.89,221.37 140.18,221.64 139.48,221.88 138.77,222.08 138.06,222.24 137.36,222.36 136.65,222.44 135.94,222.49 135.24,222.5 134.53,222.46 133.82,222.39 133.12,222.37 132.41,222.45 131.7,222.49 131,222.49 130.29,222.46 129.58,222.38 128.87,222.27 128.17,222.11 127.46,221.92 126.75,221.69 126.05,221.43 125.34,221.12 124.63,220.78 123.93,220.4 123.22,219.99 122.51,219.54 121.81,219.05 121.1,218.53 120.39,217.97 119.69,217.38 118.98,216.76 118.27,216.1 117.57,215.41 116.86,214.69 116.15,213.94 115.45,213.16 114.74,212.35 114.03,211.51 113.33,210.64 112.62,209.75 111.91,208.83 111.21,207.88 110.5,206.91 109.79,205.92 109.09,204.9 108.38,203.87 107.67,202.81 106.97,201.73 106.26,200.64 105.55,199.53 104.85,198.4 104.14,197.26 103.43,196.11 102.73,194.94 102.02,193.76 101.31,192.57 100.6,191.37 99.9,190.16 99.19,188.95 98.48,187.73 97.78,186.51 97.07,185.28 96.36,184.06 95.66,182.83 94.95,181.6 94.24,180.38 93.54,179.15 92.83,177.93 92.12,176.72 91.42,175.51 90.71,174.31 90,173.12 89.3,171.94 88.59,170.78 87.88,169.62 87.18,168.48 86.47,167.35 85.76,166.24 85.06,165.14 84.35,164.06 83.64,163.01 82.94,161.97 82.23,160.95 81.52,159.96 80.82,158.99 80.11,158.04 79.4,157.12 78.7,156.22 77.99,155.35 77.28,154.51 76.58,153.7 75.87,152.91 75.16,152.16 74.46,151.43 73.75,150.74 73.04,150.08 72.33,149.46 71.63,148.86 70.92,148.31 70.21,147.78 69.51,147.29 68.8,146.84 68.09,146.42 67.39,146.04 66.68,145.7 65.97,145.39 65.27,145.12 64.56,144.89 63.85,144.7 63.15,144.54 62.44,144.45 61.73,144.53 61.03,144.63 60.32,144.76 59.61,144.92 58.91,145.12 58.2,145.36 57.49,145.63 56.79,145.93 56.08,146.26 55.37,146.63 54.67,147.03 53.96,147.47 53.25,147.93 52.55,148.43 51.84,148.96 51.13,149.52 50.43,150.11 49.72,150.73 49.01,151.38 48.31,152.06 47.6,152.77 46.89,153.5 46.19,154.25 45.48,155.04 44.77,155.84 44.06,156.67 43.36,157.53 42.65,158.4 41.94,159.29 41.24,160.21 40.53,161.14 39.82,162.09 39.12,163.06 38.41,164.04 37.7,165.04 37,166.06 36.29,167.09 35.58,168.15 34.88,169.24 34.17,170.36 33.46,171.45 32.76,172.25 32.05,172.4"/><polygon fill="#000000" points="32.05,172.4 32.76,161.12 33.46,155.46 34.17,152.36 34.88,150.43 35.58,149.04 36.29,147.9 37,146.87 37.7,145.9 38.41,144.96 39.12,144.04 39.82,143.13 40.53,142.25 41.24,141.37 41.94,140.52 42.65,139.68 43.36,138.85 44.06,138.05 44.77,137.27 45.48,136.51 46.19,135.78 46.89,135.06 47.6,134.38 48.31,133.71 49.01,133.08 49.72,132.47 50.43,131.89 51.13,131.34 51.84,130.81 52.55,130.32 53.25,129.86 53.96,129.43 54.67,129.03 55.37,128.66 56.08,128.33 56.79,128.03 57.49,127.76 58.2,127.52 58.91,127.32 59.61,127.15 60.32,127.02 61.03,126.92 61.73,126.86 62.44,126.83 63.15,126.84 63.85,126.88 64.56,126.95 65.27,127.06 65.97,127.2 66.68,127.38 67.39,127.6 68.09,127.84 68.8,128.12 69.51,128.44 70.21,128.79 70.92,129.17 71.63,129.58 72.33,130.02 73.04,130.5 73.75,131.01 74.46,131.55 75.16,132.12 75.87,132.72 76.58,133.35 77.28,134 77.99,134.69 78.7,135.4 79.4,136.14 80.11,136.9 80.82,137.69 81.52,138.5 82.23,139.34 82.94,140.2 83.64,141.08 84.35,141.98 85.06,142.9 85.76,143.84 86.47,144.8 87.18,145.78 87.88,146.77 88.59,147.78 89.3,148.8 90,149.83 90.71,150.88 91.42,151.94 92.12,153.01 92.83,154.09 93.54,155.17 94.24,156.27 94.95,157.36 95.66,158.47 96.36,159.58 97.07,160.69 97.78,161.8 98.48,162.91 99.19,164.02 99.9,165.13 100.6,166.24 101.31,167.34 102.02,168.44 102.73,169.53 103.43,170.61 104.14,171.69 104.85,172.76 105.55,173.81 106.26,174.86 106.97,175.89 107.67,176.91 108.38,177.91 109.09,178.9 109.79,179.87 110.5,180.83 111.21,181.77 111.91,182.68 112.62,183.58 113.33,184.46 114.03,185.31 114.74,186.14 115.45,186.95 116.15,187.74 116.86,188.5 117.57,189.23 118.27,189.93 118.98,190.61 119.69,191.26 120.39,191.89 121.1,192.48 121.81,193.04 122.51,193.57 123.22,194.08 123.93,194.55 124.63,194.98 125.34,195.39 126.05,195.76 126.75,196.1 127.46,196.41 128.17,196.68 128.87,196.92 129.58,197.13 130.29,197.3 131,197.43 131.7,197.54 132.41,197.6 133.12,197.63 133.82,197.63 134.53,197.59 135.24,197.52 135.94,197.41 136.65,197.27 137.36,197.09 138.06,196.88 138.77,196.63 139.48,196.35 140.18,196.04 140.89,195.69 141.6,195.31 142.3,194.9 143.01,194.45 143.72,193.98 144.42,193.47 145.13,192.93 145.84,192.36 146.54,191.76 147.25,191.14 147.96,190.48 148.66,189.79 149.37,189.08 150.08,188.35 150.78,187.58 151.49,186.79 152.2,185.98 152.9,185.14 153.61,184.28 154.32,183.4 155.02,182.5 155.73,181.58 156.44,180.64 157.14,179.68 157.85,178.71 158.56,177.71 159.27,176.71 159.97,175.68 160.68,174.65 161.39,173.6 162.09,172.54 162.8,171.47 163.51,170.4 164.21,169.31 164.92,168.22 165.63,167.12 166.33,166.02 167.04,164.91 167.75,163.8 168.45,162.69 169.16,161.57 169.87,160.46 170.57,159.35 171.28,158.25 171.99,157.14 172.69,156.05 173.4,154.96 173.4,178.8 172.69,179.91 171.99,181.02 171.28,182.14 170.57,183.26 169.87,184.38 169.16,185.49 168.45,186.6 167.75,187.71 167.04,188.82 166.33,189.91 165.63,191 164.92,192.08 164.21,193.16 163.51,194.22 162.8,195.27 162.09,196.3 161.39,197.33 160.68,198.34 159.97,199.33 159.27,200.31 158.56,201.27 157.85,202.21 157.14,203.13 156.44,204.03 155.73,204.91 155.02,205.77 154.32,206.61 153.61,207.42 152.9,208.21 152.2,208.97 151.49,209.7 150.78,210.41 150.08,211.09 149.37,211.75 148.66,212.37 147.96,212.97 147.25,213.53 146.54,214.07 145.84,214.57 145.13,215.04 144.42,215.48 143.72,215.89 143.01,216.26 142.3,216.6 141.6,216.91 140.89,217.18 140.18,217.42 139.48,217.63 138.77,217.8 138.06,217.94 137.36,218.04 136.65,218.1 135.94,218.13 135.24,218.13 134.53,218.09 133.82,218.01 133.12,217.99 132.41,218.08 131.7,218.12 131,218.13 130.29,218.11 129.58,218.05 128.87,217.96 128.17,217.83 127.46,217.67 126.75,217.47 126.05,217.24 125.34,216.97 124.63,216.67 123.93,216.33 123.22,215.97 122.51,215.57 121.81,215.13 121.1,214.67 120.39,214.17 119.69,213.64 118.98,213.08 118.27,212.49 117.57,211.87 116.86,211.23 116.15,210.55 115.45,209.85 114.74,209.12 114.03,208.36 113.33,207.58 112.62,206.77 111.91,205.94 111.21,205.09 110.5,204.21 109.79,203.31 109.09,202.4 108.38,201.46 107.67,200.5 106.97,199.53 106.26,198.54 105.55,197.53 104.85,196.51 104.14,195.48 103.43,194.43 102.73,193.37 102.02,192.3 101.31,191.22 100.6,190.13 99.9,189.04 99.19,187.93 98.48,186.83 97.78,185.71 97.07,184.6 96.36,183.48 95.66,182.37 94.95,181.25 94.24,180.13 93.54,179.02 92.83,177.91 92.12,176.8 91.42,175.7 90.71,174.61 90,173.52 89.3,172.45 88.59,171.38 87.88,170.33 87.18,169.28 86.47,168.25 85.76,167.24 85.06,166.24 84.35,165.25 83.64,164.28 82.94,163.33 82.23,162.4 81.52,161.49 80.82,160.6 80.11,159.73 79.4,158.89 78.7,158.06 77.99,157.27 77.28,156.49 76.58,155.74 75.87,155.02 75.16,154.33 74.46,153.66 73.75,153.03 73.04,152.42 72.33,151.84 71.63,151.29 70.92,150.77 70.21,150.29 69.51,149.83 68.8,149.41 68.09,149.02 67.39,148.66 66.68,148.34 65.97,148.05 65.27,147.8 64.56,147.58 63.85,147.39 63.15,147.24 62.44,147.15 61.73,147.22 61.03,147.31 60.32,147.44 59.61,147.59 58.91,147.77 58.2,147.99 57.49,148.23 56.79,148.5 56.08,148.81 55.37,149.14 54.67,149.51 53.96,149.9 53.25,150.32 52.55,150.77 51.84,151.25 51.13,151.76 50.43,152.3 49.72,152.86 49.01,153.44 48.31,154.06 47.6,154.69 46.89,155.36 46.19,156.04 45.48,156.75 44.77,157.47 44.06,158.22 43.36,158.99 42.65,159.78 41.94,160.59 41.24,161.41 40.53,162.25 39.82,163.11 39.12,163.98 38.41,164.86 37.7,165.76 37,166.68 36.29,167.61 35.58,168.57 34.88,169.55 34.17,170.55 33.46,171.54 32.76,172.25 32.05,172.4"/><polygon fill="#0000ff" points="32.05,172.4 32.76,161.96 33.46,156.73 34.17,153.88 34.88,152.11 35.58,150.84 36.29,149.8 37,148.86 37.7,147.97 38.41,147.11 39.12,146.27 39.82,145.45 40.53,144.63 41.24,143.84 41.94,143.05 42.65,142.29 43.36,141.53 44.06,140.8 44.77,140.09 45.48,139.39 46.19,138.72 46.89,138.07 47.6,137.44 48.31,136.83 49.01,136.25 49.72,135.69 50.43,135.16 51.13,134.66 51.84,134.18 52.55,133.73 53.25,133.3 53.96,132.91 54.67,132.54 55.37,132.21 56.08,131.9 56.79,131.62 57.49,131.38 58.2,131.16 58.91,130.98 59.61,130.83 60.32,130.7 61.03,130.61 61.73,130.56 62.44,130.53 63.15,130.53 63.85,130.57 64.56,130.64 65.27,130.74 65.97,130.87 66.68,131.04 67.39,131.23 68.09,131.46 68.8,131.72 69.51,132 70.21,132.32 70.92,132.67 71.63,133.05 72.33,133.46 73.04,133.9 73.75,134.36 74.46,134.86 75.16,135.38 75.87,135.93 76.58,136.5 77.28,137.1 77.99,137.73 78.7,138.38 79.4,139.06 80.11,139.76 80.82,140.48 81.52,141.23 82.23,142 82.94,142.78 83.64,143.59 84.35,144.42 85.06,145.26 85.76,146.13 86.47,147 87.18,147.9 87.88,148.81 88.59,149.73 89.3,150.67 90,151.62 90.71,152.58 91.42,153.55 92.12,154.53 92.83,155.52 93.54,156.51 94.24,157.51 94.95,158.52 95.66,159.53 96.36,160.55 97.07,161.56 97.78,162.58 98.48,163.6 99.19,164.62 99.9,165.64 100.6,166.65 101.31,167.66 102.02,168.67 102.73,169.67 103.43,170.66 104.14,171.65 104.85,172.63 105.55,173.6 106.26,174.55 106.97,175.5 107.67,176.44 108.38,177.36 109.09,178.26 109.79,179.15 110.5,180.03 111.21,180.89 111.91,181.73 112.62,182.55 113.33,183.36 114.03,184.14 114.74,184.9 115.45,185.64 116.15,186.36 116.86,187.06 117.57,187.73 118.27,188.38 118.98,189 119.69,189.59 120.39,190.16 121.1,190.71 121.81,191.22 122.51,191.71 123.22,192.17 123.93,192.6 124.63,193 125.34,193.38 126.05,193.72 126.75,194.03 127.46,194.31 128.17,194.56 128.87,194.78 129.58,194.97 130.29,195.13 131,195.25 131.7,195.34 132.41,195.4 133.12,195.43 133.82,195.43 134.53,195.39 135.24,195.33 135.94,195.23 136.65,195.1 137.36,194.93 138.06,194.74 138.77,194.52 139.48,194.26 140.18,193.97 140.89,193.65 141.6,193.3 142.3,192.93 143.01,192.52 143.72,192.08 144.42,191.62 145.13,191.12 145.84,190.6 146.54,190.05 147.25,189.48 147.96,188.88 148.66,188.25 149.37,187.6 150.08,186.92 150.78,186.22 151.49,185.5 152.2,184.75 152.9,183.98 153.61,183.2 154.32,182.39 155.02,181.56 155.73,180.72 156.44,179.86 157.14,178.98 157.85,178.08 158.56,177.17 159.27,176.25 159.97,175.31 160.68,174.36 161.39,173.4 162.09,172.43 162.8,171.45 163.51,170.47 164.21,169.47 164.92,168.47 165.63,167.46 166.33,166.45 167.04,165.44 167.75,164.42 168.45,163.4 169.16,162.38 169.87,161.36 170.57,160.34 171.28,159.33 171.99,158.32 172.69,157.31 173.4,156.31 173.4,178.65 172.69,179.68 171.99,180.7 171.28,181.73 170.57,182.75 169.87,183.78 169.16,184.8 168.45,185.82 167.75,186.83 167.04,187.84 166.33,188.85 165.63,189.85 164.92,190.84 164.21,191.82 163.51,192.79 162.8,193.75 162.09,194.7 161.39,195.63 160.68,196.55 159.97,197.46 159.27,198.35 158.56,199.23 157.85,200.09 157.14,200.93 156.44,201.75 155.73,202.55 155.02,203.33 154.32,204.09 153.61,204.83 152.9,205.55 152.2,206.24 151.49,206.91 150.78,207.55 150.08,208.17 149.37,208.76 148.66,209.33 147.96,209.86 147.25,210.37 146.54,210.86 145.84,211.31 145.13,211.73 144.42,212.13 143.72,212.49 143.01,212.83 142.3,213.13 141.6,213.41 140.89,213.65 140.18,213.86 139.48,214.04 138.77,214.18 138.06,214.3 137.36,214.38 136.65,214.43 135.94,214.45 135.24,214.44 134.53,214.39 133.82,214.32 133.12,214.3 132.41,214.38 131.7,214.43 131,214.45 130.29,214.44 129.58,214.4 128.87,214.32 128.17,214.21 127.46,214.07 126.75,213.9 126.05,213.69 125.34,213.46 124.63,213.19 123.93,212.89 123.22,212.56 122.51,212.2 121.81,211.82 121.1,211.4 120.39,210.95 119.69,210.47 118.98,209.97 118.27,209.44 117.57,208.88 116.86,208.29 116.15,207.68 115.45,207.04 114.74,206.38 114.03,205.69 113.33,204.98 112.62,204.24 111.91,203.49 111.21,202.71 110.5,201.91 109.79,201.09 109.09,200.26 108.38,199.4 107.67,198.53 106.97,197.64 106.26,196.74 105.55,195.82 104.85,194.89 104.14,193.94 103.43,192.98 102.73,192.01 102.02,191.03 101.31,190.05 100.6,189.05 99.9,188.05 99.19,187.04 98.48,186.02 97.78,185 97.07,183.98 96.36,182.96 95.66,181.93 94.95,180.91 94.24,179.88 93.54,178.86 92.83,177.84 92.12,176.82 91.42,175.81 90.71,174.81 90,173.81 89.3,172.82 88.59,171.84 87.88,170.87 87.18,169.91 86.47,168.96 85.76,168.02 85.06,167.1 84.35,166.19 83.64,165.3 82.94,164.42 82.23,163.56 81.52,162.72 80.82,161.9 80.11,161.1 79.4,160.31 78.7,159.55 77.99,158.81 77.28,158.1 76.58,157.4 75.87,156.73 75.16,156.09 74.46,155.47 73.75,154.88 73.04,154.31 72.33,153.77 71.63,153.26 70.92,152.78 70.21,152.32 69.51,151.9 68.8,151.5 68.09,151.14 67.39,150.8 66.68,150.5 65.97,150.22 65.27,149.98 64.56,149.77 63.85,149.59 63.15,149.44 62.44,149.35 61.73,149.42 61.03,149.51 60.32,149.62 59.61,149.76 58.91,149.93 58.2,150.13 57.49,150.35 56.79,150.6 56.08,150.88 55.37,151.19 54.67,151.52 53.96,151.88 53.25,152.26 52.55,152.68 51.84,153.12 51.13,153.58 50.43,154.07 49.72,154.58 49.01,155.11 48.31,155.67 47.6,156.25 46.89,156.85 46.19,157.48 45.48,158.12 44.77,158.78 44.06,159.47 43.36,160.17 42.65,160.88 41.94,161.62 41.24,162.37 40.53,163.13 39.82,163.91 39.12,164.7 38.41,165.5 37.7,166.32 37,167.15 36.29,168 35.58,168.87 34.88,169.76 34.17,170.67 33.46,171.57 32.76,172.25 32.05,172.4"/><polygon fill="#00ff00" points="32.05,172.4 32.76,162.66 33.46,157.8 34.17,155.15 34.88,153.52 35.58,152.35 36.29,151.39 37,150.52 37.7,149.71 38.41,148.92 39.12,148.15 39.82,147.39 40.53,146.64 41.24,145.91 41.94,145.19 42.65,144.48 43.36,143.79 44.06,143.11 44.77,142.45 45.48,141.81 46.19,141.19 46.89,140.59 47.6,140.01 48.31,139.45 49.01,138.92 49.72,138.4 50.43,137.91 51.13,137.45 51.84,137.01 52.55,136.59 53.25,136.2 53.96,135.84 54.67,135.5 55.37,135.19 56.08,134.91 56.79,134.65 57.49,134.43 58.2,134.23 58.91,134.06 59.61,133.92 60.32,133.8 61.03,133.72 61.73,133.67 62.44,133.64 63.15,133.65 63.85,133.68 64.56,133.75 65.27,133.84 65.97,133.96 66.68,134.11 67.39,134.29 68.09,134.5 68.8,134.74 69.51,135.01 70.21,135.3 70.92,135.62 71.63,135.97 72.33,136.35 73.04,136.75 73.75,137.18 74.46,137.64 75.16,138.12 75.87,138.63 76.58,139.16 77.28,139.71 77.99,140.29 78.7,140.9 79.4,141.52 80.11,142.17 80.82,142.83 81.52,143.52 82.23,144.23 82.94,144.96 83.64,145.7 84.35,146.47 85.06,147.25 85.76,148.04 86.47,148.85 87.18,149.68 87.88,150.52 88.59,151.37 89.3,152.24 90,153.11 90.71,154 91.42,154.89 92.12,155.8 92.83,156.71 93.54,157.63 94.24,158.55 94.95,159.48 95.66,160.42 96.36,161.35 97.07,162.29 97.78,163.23 98.48,164.17 99.19,165.11 99.9,166.05 100.6,166.99 101.31,167.92 102.02,168.85 102.73,169.78 103.43,170.69 104.14,171.6 104.85,172.51 105.55,173.4 106.26,174.28 106.97,175.16 107.67,176.02 108.38,176.87 109.09,177.71 109.79,178.53 110.5,179.34 111.21,180.13 111.91,180.91 112.62,181.67 113.33,182.41 114.03,183.13 114.74,183.84 115.45,184.52 116.15,185.18 116.86,185.82 117.57,186.44 118.27,187.04 118.98,187.62 119.69,188.17 120.39,188.69 121.1,189.19 121.81,189.67 122.51,190.12 123.22,190.55 123.93,190.94 124.63,191.31 125.34,191.66 126.05,191.97 126.75,192.26 127.46,192.52 128.17,192.75 128.87,192.96 129.58,193.13 130.29,193.27 131,193.39 131.7,193.47 132.41,193.53 133.12,193.56 133.82,193.55 134.53,193.52 135.24,193.46 135.94,193.37 136.65,193.25 137.36,193.1 138.06,192.92 138.77,192.71 139.48,192.47 140.18,192.21 140.89,191.91 141.6,191.59 142.3,191.24 143.01,190.87 143.72,190.46 144.42,190.03 145.13,189.58 145.84,189.1 146.54,188.59 147.25,188.06 147.96,187.5 148.66,186.92 149.37,186.32 150.08,185.7 150.78,185.05 151.49,184.38 152.2,183.7 152.9,182.99 153.61,182.26 154.32,181.52 155.02,180.75 155.73,179.97 156.44,179.18 157.14,178.37 157.85,177.54 158.56,176.7 159.27,175.85 159.97,174.98 160.68,174.11 161.39,173.22 162.09,172.33 162.8,171.42 163.51,170.51 164.21,169.59 164.92,168.67 165.63,167.74 166.33,166.8 167.04,165.87 167.75,164.93 168.45,163.99 169.16,163.05 169.87,162.11 170.57,161.17 171.28,160.23 171.99,159.3 172.69,158.37 173.4,157.44 173.4,178.55 172.69,179.49 171.99,180.44 171.28,181.39 170.57,182.34 169.87,183.28 169.16,184.23 168.45,185.17 167.75,186.1 167.04,187.04 166.33,187.96 165.63,188.88 164.92,189.8 164.21,190.7 163.51,191.59 162.8,192.48 162.09,193.35 161.39,194.21 160.68,195.06 159.97,195.9 159.27,196.72 158.56,197.52 157.85,198.31 157.14,199.08 156.44,199.83 155.73,200.57 155.02,201.29 154.32,201.98 153.61,202.66 152.9,203.31 152.2,203.95 151.49,204.56 150.78,205.15 150.08,205.71 149.37,206.25 148.66,206.76 147.96,207.25 147.25,207.72 146.54,208.16 145.84,208.57 145.13,208.95 144.42,209.31 143.72,209.64 143.01,209.94 142.3,210.21 141.6,210.46 140.89,210.67 140.18,210.86 139.48,211.01 138.77,211.14 138.06,211.24 137.36,211.31 136.65,211.35 135.94,211.35 135.24,211.33 134.53,211.28 133.82,211.2 133.12,211.18 132.41,211.27 131.7,211.32 131,211.35 130.29,211.35 129.58,211.32 128.87,211.25 128.17,211.16 127.46,211.04 126.75,210.89 126.05,210.71 125.34,210.5 124.63,210.26 123.93,210 123.22,209.7 122.51,209.38 121.81,209.03 121.1,208.65 120.39,208.24 119.69,207.81 118.98,207.35 118.27,206.86 117.57,206.35 116.86,205.82 116.15,205.26 115.45,204.68 114.74,204.07 114.03,203.44 113.33,202.79 112.62,202.12 111.91,201.43 111.21,200.71 110.5,199.98 109.79,199.23 109.09,198.46 108.38,197.68 107.67,196.88 106.97,196.06 106.26,195.23 105.55,194.38 104.85,193.52 104.14,192.65 103.43,191.77 102.73,190.88 102.02,189.98 101.31,189.07 100.6,188.15 99.9,187.22 99.19,186.29 98.48,185.36 97.78,184.41 97.07,183.47 96.36,182.53 95.66,181.58 94.95,180.63 94.24,179.68 93.54,178.74 92.83,177.79 92.12,176.85 91.42,175.92 90.71,174.99 90,174.06 89.3,173.15 88.59,172.24 87.88,171.34 87.18,170.45 86.47,169.57 85.76,168.7 85.06,167.84 84.35,167 83.64,166.17 82.94,165.36 82.23,164.56 81.52,163.78 80.82,163.01 80.11,162.26 79.4,161.53 78.7,160.83 77.99,160.14 77.28,159.47 76.58,158.82 75.87,158.2 75.16,157.6 74.46,157.02 73.75,156.46 73.04,155.93 72.33,155.43 71.63,154.95 70.92,154.49 70.21,154.06 69.51,153.66 68.8,153.29 68.09,152.94 67.39,152.62 66.68,152.33 65.97,152.07 65.27,151.84 64.56,151.63 63.85,151.46 63.15,151.31 62.44,151.23 61.73,151.29 61.03,151.38 60.32,151.48 59.61,151.62 58.91,151.77 58.2,151.95 57.49,152.16 56.79,152.39 56.08,152.65 55.37,152.93 54.67,153.24 53.96,153.57 53.25,153.92 52.55,154.3 51.84,154.71 51.13,155.13 50.43,155.58 49.72,156.05 49.01,156.54 48.31,157.05 47.6,157.59 46.89,158.14 46.19,158.71 45.48,159.3 44.77,159.91 44.06,160.53 43.36,161.17 42.65,161.83 41.94,162.5 41.24,163.19 40.53,163.89 39.82,164.6 39.12,165.32 38.41,166.06 37.7,166.81 37,167.57 36.29,168.34 35.58,169.13 34.88,169.95 34.17,170.78 33.46,171.59 32.76,172.25 32.05,172.4"/><polygon fill="#ff0000" points="32.05,172.4 32.76,163.3 33.46,158.76 34.17,156.29 34.88,154.78 35.58,153.69 36.29,152.81 37,152.01 37.7,151.25 38.41,150.52 39.12,149.81 39.82,149.11 40.53,148.42 41.24,147.74 41.94,147.07 42.65,146.41 43.36,145.77 44.06,145.15 44.77,144.54 45.48,143.95 46.19,143.37 46.89,142.81 47.6,142.28 48.31,141.76 49.01,141.26 49.72,140.79 50.43,140.33 51.13,139.9 51.84,139.49 52.55,139.1 53.25,138.74 53.96,138.4 54.67,138.09 55.37,137.8 56.08,137.54 56.79,137.31 57.49,137.09 58.2,136.91 58.91,136.75 59.61,136.62 60.32,136.52 61.03,136.44 61.73,136.39 62.44,136.37 63.15,136.37 63.85,136.41 64.56,136.46 65.27,136.55 65.97,136.66 66.68,136.81 67.39,136.97 68.09,137.17 68.8,137.39 69.51,137.63 70.21,137.91 70.92,138.21 71.63,138.53 72.33,138.88 73.04,139.26 73.75,139.66 74.46,140.08 75.16,140.53 75.87,141 76.58,141.49 77.28,142.01 77.99,142.55 78.7,143.1 79.4,143.68 80.11,144.28 80.82,144.9 81.52,145.54 82.23,146.2 82.94,146.88 83.64,147.57 84.35,148.28 85.06,149 85.76,149.74 86.47,150.49 87.18,151.26 87.88,152.04 88.59,152.83 89.3,153.63 90,154.45 90.71,155.27 91.42,156.1 92.12,156.94 92.83,157.79 93.54,158.64 94.24,159.5 94.95,160.36 95.66,161.23 96.36,162.1 97.07,162.97 97.78,163.85 98.48,164.72 99.19,165.59 99.9,166.47 100.6,167.33 101.31,168.2 102.02,169.06 102.73,169.92 103.43,170.77 104.14,171.62 104.85,172.46 105.55,173.29 106.26,174.11 106.97,174.92 107.67,175.72 108.38,176.51 109.09,177.29 109.79,178.05 110.5,178.8 111.21,179.54 111.91,180.26 112.62,180.96 113.33,181.65 114.03,182.32 114.74,182.98 115.45,183.61 116.15,184.23 116.86,184.82 117.57,185.4 118.27,185.95 118.98,186.49 119.69,187 120.39,187.49 121.1,187.95 121.81,188.4 122.51,188.81 123.22,189.21 123.93,189.58 124.63,189.92 125.34,190.24 126.05,190.53 126.75,190.8 127.46,191.04 128.17,191.26 128.87,191.45 129.58,191.61 130.29,191.74 131,191.85 131.7,191.93 132.41,191.98 133.12,192 133.82,192 134.53,191.97 135.24,191.91 135.94,191.83 136.65,191.72 137.36,191.58 138.06,191.41 138.77,191.22 139.48,191 140.18,190.75 140.89,190.48 141.6,190.18 142.3,189.86 143.01,189.51 143.72,189.13 144.42,188.73 145.13,188.31 145.84,187.86 146.54,187.39 147.25,186.9 147.96,186.38 148.66,185.84 149.37,185.29 150.08,184.71 150.78,184.11 151.49,183.49 152.2,182.85 152.9,182.19 153.61,181.52 154.32,180.82 155.02,180.12 155.73,179.39 156.44,178.65 157.14,177.9 157.85,177.13 158.56,176.35 159.27,175.56 159.97,174.76 160.68,173.94 161.39,173.12 162.09,172.29 162.8,171.45 163.51,170.6 164.21,169.75 164.92,168.89 165.63,168.03 166.33,167.16 167.04,166.29 167.75,165.42 168.45,164.55 169.16,163.67 169.87,162.8 170.57,161.93 171.28,161.06 171.99,160.19 172.69,159.33 173.4,158.47 173.4,178.4 172.69,179.28 171.99,180.16 171.28,181.04 170.57,181.92 169.87,182.8 169.16,183.68 168.45,184.55 167.75,185.42 167.04,186.29 166.33,187.15 165.63,188 164.92,188.85 164.21,189.69 163.51,190.52 162.8,191.33 162.09,192.14 161.39,192.94 160.68,193.72 159.97,194.5 159.27,195.26 158.56,196 157.85,196.73 157.14,197.44 156.44,198.14 155.73,198.81 155.02,199.48 154.32,200.12 153.61,200.74 152.9,201.34 152.2,201.93 151.49,202.49 150.78,203.03 150.08,203.55 149.37,204.04 148.66,204.51 147.96,204.96 147.25,205.39 146.54,205.79 145.84,206.16 145.13,206.51 144.42,206.84 143.72,207.13 143.01,207.41 142.3,207.65 141.6,207.87 140.89,208.06 140.18,208.23 139.48,208.37 138.77,208.48 138.06,208.56 137.36,208.61 136.65,208.64 135.94,208.64 135.24,208.61 134.53,208.56 133.82,208.48 133.12,208.46 132.41,208.54 131.7,208.61 131,208.64 130.29,208.64 129.58,208.62 128.87,208.57 128.17,208.49 127.46,208.39 126.75,208.26 126.05,208.1 125.34,207.91 124.63,207.7 123.93,207.46 123.22,207.19 122.51,206.9 121.81,206.58 121.1,206.23 120.39,205.86 119.69,205.47 118.98,205.05 118.27,204.6 117.57,204.14 116.86,203.65 116.15,203.13 115.45,202.6 114.74,202.04 114.03,201.46 113.33,200.86 112.62,200.24 111.91,199.61 111.21,198.95 110.5,198.27 109.79,197.58 109.09,196.87 108.38,196.15 107.67,195.4 106.97,194.65 106.26,193.88 105.55,193.1 104.85,192.3 104.14,191.5 103.43,190.68 102.73,189.85 102.02,189.02 101.31,188.17 100.6,187.32 99.9,186.46 99.19,185.6 98.48,184.73 97.78,183.86 97.07,182.98 96.36,182.1 95.66,181.22 94.95,180.34 94.24,179.46 93.54,178.58 92.83,177.7 92.12,176.83 91.42,175.96 90.71,175.09 90,174.23 89.3,173.37 88.59,172.53 87.88,171.69 87.18,170.86 86.47,170.04 85.76,169.22 85.06,168.43 84.35,167.64 83.64,166.86 82.94,166.1 82.23,165.36 81.52,164.62 80.82,163.91 80.11,163.21 79.4,162.53 78.7,161.86 77.99,161.22 77.28,160.59 76.58,159.98 75.87,159.4 75.16,158.83 74.46,158.29 73.75,157.76 73.04,157.26 72.33,156.79 71.63,156.33 70.92,155.9 70.21,155.5 69.51,155.12 68.8,154.76 68.09,154.43 67.39,154.13 66.68,153.85 65.97,153.6 65.27,153.38 64.56,153.18 63.85,153.01 63.15,152.87 62.44,152.78 61.73,152.84 61.03,152.92 60.32,153.02 59.61,153.15 58.91,153.29 58.2,153.46 57.49,153.65 56.79,153.87 56.08,154.11 55.37,154.37 54.67,154.65 53.96,154.96 53.25,155.29 52.55,155.64 51.84,156.01 51.13,156.41 50.43,156.82 49.72,157.25 49.01,157.71 48.31,158.18 47.6,158.67 46.89,159.18 46.19,159.71 45.48,160.26 44.77,160.82 44.06,161.39 43.36,161.98 42.65,162.59 41.94,163.21 41.24,163.84 40.53,164.48 39.82,165.14 39.12,165.8 38.41,166.48 37.7,167.17 37,167.86 36.29,168.58 35.58,169.31 34.88,170.06 34.17,170.83 33.46,171.59 32.76,172.25 32.05,172.4"/></g>
<g><path d="M218.25 172.4L219.13 172.36L220.02 172.31L220.9 172.27L221.78 172.23L222.67 172.19L223.55 172.14L224.44 172.1L225.32 172.06L226.2 172.02L227.09 171.98L227.97 171.94L228.85 171.9L229.74 171.86L230.62 171.83L231.51 171.79L232.39 171.75L233.27 171.72L234.16 171.69L235.04 171.65L235.93 171.62L236.81 171.59L237.69 171.56L238.58 171.54L239.46 171.51L240.34 171.49L241.23 171.46L242.11 171.44L243 171.42L243.88 171.4L244.76 171.38L245.65 171.37L246.53 171.35L247.41 171.34L248.3 171.33L249.18 171.32L250.06 171.31L250.95 171.31L251.83 171.3L252.72 171.3L253.6 171.3L254.48 171.3L255.37 171.3L256.25 171.31L257.13 171.31L258.02 171.32L258.9 171.33L259.79 171.34L260.67 171.35L261.55 171.37L262.44 171.38L263.32 171.4L264.2 171.42L265.09 171.44L265.97 171.46L266.86 171.49L267.74 171.51L268.62 171.54L269.51 171.56L270.39 171.59L271.27 171.62L272.16 171.65L273.04 171.69L273.93 171.72L274.81 171.75L275.69 171.79L276.58 171.83L277.46 171.86L278.34 171.9L279.23 171.94L280.11 171.98L281 172.02L281.88 172.06L282.76 172.1L283.65 172.14L284.53 172.19L285.41 172.23L286.3 172.27L287.18 172.31L288.07 172.36L288.95 172.4L289.83 172.44L290.72 172.49L291.6 172.53L292.49 172.57L293.37 172.61L294.25 172.66L295.14 172.7L296.02 172.74L296.9 172.78L297.79 172.82L298.67 172.86L299.55 172.9L300.44 172.94L301.32 172.97L302.21 173.01L303.09 173.05L303.97 173.08L304.86 173.11L305.74 173.15L306.62 173.18L307.51 173.21L308.39 173.24L309.28 173.26L310.16 173.29L311.04 173.31L311.93 173.34L312.81 173.36L313.69 173.38L314.58 173.4L315.46 173.42L316.35 173.43L317.23 173.45L318.11 173.46L319 173.47L319.88 173.48L320.76 173.49L321.65 173.49L322.53 173.5L323.42 173.5L324.3 173.5L325.18 173.5L326.07 173.5L326.95 173.49L327.83 173.49L328.72 173.48L329.6 173.47L330.49 173.46L331.37 173.45L332.25 173.43L333.14 173.42L334.02 173.4L334.9 173.38L335.79 173.36L336.67 173.34L337.56 173.31L338.44 173.29L339.32 173.26L340.21 173.24L341.09 173.21L341.97 173.18L342.86 173.15L343.74 173.11L344.63 173.08L345.51 173.05L346.39 173.01L347.28 172.97L348.16 172.94L349.04 172.9L349.93 172.86L350.81 172.82L351.7 172.78L352.58 172.74L353.46 172.7L354.35 172.66L355.23 172.61L356.12 172.57L357 172.53L357.88 172.49L358.77 172.44L359.65 172.4" fill="none" stroke="#0000ff" stroke-width="2.8"/><path d="M218.25 172.4L219.13 167.26L220.02 162.13L220.9 157.02L221.78 151.93L222.67 146.87L223.55 141.85L224.44 136.88L225.32 131.96L226.2 127.11L227.09 122.32L227.97 117.62L228.85 112.99L229.74 108.46L230.62 104.03L231.51 99.7L232.39 95.49L233.27 91.39L234.16 87.42L235.04 83.58L235.93 79.87L236.81 76.31L237.69 72.9L238.58 69.64L239.46 66.54L240.34 63.6L241.23 60.83L242.11 58.23L243 55.81L243.88 53.57L244.76 51.51L245.65 49.64L246.53 47.95L247.41 46.46L248.3 45.16L249.18 44.06L250.06 43.16L250.95 42.45L251.83 41.95L252.72 41.65L253.6 41.55L254.48 41.65L255.37 41.95L256.25 42.45L257.13 43.16L258.02 44.06L258.9 45.16L259.79 46.46L260.67 47.95L261.55 49.64L262.44 51.51L263.32 53.57L264.2 55.81L265.09 58.23L265.97 60.83L266.86 63.6L267.74 66.54L268.62 69.64L269.51 72.9L270.39 76.31L271.27 79.87L272.16 83.58L273.04 87.42L273.93 91.39L274.81 95.49L275.69 99.7L276.58 104.03L277.46 108.46L278.34 112.99L279.23 117.62L280.11 122.32L281 127.11L281.88 131.96L282.76 136.88L283.65 141.85L284.53 146.87L285.41 151.93L286.3 157.02L287.18 162.13L288.07 167.26L288.95 172.4L289.83 177.54L290.72 182.67L291.6 187.78L292.49 192.87L293.37 197.93L294.25 202.95L295.14 207.92L296.02 212.84L296.9 217.69L297.79 222.48L298.67 227.18L299.55 231.81L300.44 236.34L301.32 240.77L302.21 245.1L303.09 249.31L303.97 253.41L304.86 257.38L305.74 261.22L306.62 264.93L307.51 268.49L308.39 271.9L309.28 275.16L310.16 278.26L311.04 281.2L311.93 283.97L312.81 286.57L313.69 288.99L314.58 291.23L315.46 293.29L316.35 295.16L317.23 296.85L318.11 298.34L319 299.64L319.88 300.74L320.76 301.64L321.65 302.35L322.53 302.85L323.42 303.15L324.3 303.25L325.18 303.15L326.07 302.85L326.95 302.35L327.83 301.64L328.72 300.74L329.6 299.64L330.49 298.34L331.37 296.85L332.25 295.16L333.14 293.29L334.02 291.23L334.9 288.99L335.79 286.57L336.67 283.97L337.56 281.2L338.44 278.26L339.32 275.16L340.21 271.9L341.09 268.49L341.97 264.93L342.86 261.22L343.74 257.38L344.63 253.41L345.51 249.31L346.39 245.1L347.28 240.77L348.16 236.34L349.04 231.81L349.93 227.18L350.81 222.48L351.7 217.69L352.58 212.84L353.46 207.92L354.35 202.95L355.23 197.93L356.12 192.87L357 187.78L357.88 182.67L358.77 177.54L359.65 172.4" fill="none" stroke="#0000ff" stroke-width="1.25" stroke-linejoin="round"/><path d="M218.25 172.4L219.13 168.12L220.02 163.84L220.9 159.58L221.78 155.34L222.67 151.13L223.55 146.94L224.44 142.8L225.32 138.7L226.2 134.66L227.09 130.67L227.97 126.75L228.85 122.9L229.74 119.12L230.62 115.42L231.51 111.82L232.39 108.31L233.27 104.89L234.16 101.58L235.04 98.38L235.93 95.29L236.81 92.33L237.69 89.48L238.58 86.77L239.46 84.18L240.34 81.73L241.23 79.42L242.11 77.26L243 75.24L243.88 73.37L244.76 71.66L245.65 70.1L246.53 68.69L247.41 67.45L248.3 66.37L249.18 65.45L250.06 64.7L250.95 64.11L251.83 63.69L252.72 63.44L253.6 63.36L254.48 63.44L255.37 63.69L256.25 64.11L257.13 64.7L258.02 65.45L258.9 66.37L259.79 67.45L260.67 68.69L261.55 70.1L262.44 71.66L263.32 73.37L264.2 75.24L265.09 77.26L265.97 79.42L266.86 81.73L267.74 84.18L268.62 86.77L269.51 89.48L270.39 92.33L271.27 95.29L272.16 98.38L273.04 101.58L273.93 104.89L274.81 108.31L275.69 111.82L276.58 115.42L277.46 119.12L278.34 122.9L279.23 126.75L280.11 130.67L281 134.66L281.88 138.7L282.76 142.8L283.65 146.94L284.53 151.13L285.41 155.34L286.3 159.58L287.18 163.84L288.07 168.12L288.95 172.4L289.83 176.68L290.72 180.96L291.6 185.22L292.49 189.46L293.37 193.67L294.25 197.86L295.14 202L296.02 206.1L296.9 210.14L297.79 214.13L298.67 218.05L299.55 221.9L300.44 225.68L301.32 229.38L302.21 232.98L303.09 236.49L303.97 239.91L304.86 243.22L305.74 246.42L306.62 249.51L307.51 252.47L308.39 255.32L309.28 258.03L310.16 260.62L311.04 263.07L311.93 265.38L312.81 267.54L313.69 269.56L314.58 271.43L315.46 273.14L316.35 274.7L317.23 276.11L318.11 277.35L319 278.43L319.88 279.35L320.76 280.1L321.65 280.69L322.53 281.11L323.42 281.36L324.3 281.44L325.18 281.36L326.07 281.11L326.95 280.69L327.83 280.1L328.72 279.35L329.6 278.43L330.49 277.35L331.37 276.11L332.25 274.7L333.14 273.14L334.02 271.43L334.9 269.56L335.79 267.54L336.67 265.38L337.56 263.07L338.44 260.62L339.32 258.03L340.21 255.32L341.09 252.47L341.97 249.51L342.86 246.42L343.74 243.22L344.63 239.91L345.51 236.49L346.39 232.98L347.28 229.38L348.16 225.68L349.04 221.9L349.93 218.05L350.81 214.13L351.7 210.14L352.58 206.1L353.46 202L354.35 197.86L355.23 193.67L356.12 189.46L357 185.22L357.88 180.96L358.77 176.68L359.65 172.4" fill="none" stroke="#00ff00" stroke-width="1.25" stroke-linejoin="round"/><path d="M218.25 172.4L219.13 168.73L220.02 165.07L220.9 161.41L221.78 157.78L222.67 154.17L223.55 150.58L224.44 147.03L225.32 143.52L226.2 140.05L227.09 136.63L227.97 133.27L228.85 129.97L229.74 126.73L230.62 123.56L231.51 120.47L232.39 117.46L233.27 114.54L234.16 111.7L235.04 108.96L235.93 106.31L236.81 103.77L237.69 101.33L238.58 99L239.46 96.78L240.34 94.69L241.23 92.71L242.11 90.85L243 89.12L243.88 87.52L244.76 86.05L245.65 84.71L246.53 83.51L247.41 82.44L248.3 81.52L249.18 80.73L250.06 80.08L250.95 79.58L251.83 79.22L252.72 79.01L253.6 78.93L254.48 79.01L255.37 79.22L256.25 79.58L257.13 80.08L258.02 80.73L258.9 81.52L259.79 82.44L260.67 83.51L261.55 84.71L262.44 86.05L263.32 87.52L264.2 89.12L265.09 90.85L265.97 92.71L266.86 94.69L267.74 96.78L268.62 99L269.51 101.33L270.39 103.77L271.27 106.31L272.16 108.96L273.04 111.7L273.93 114.54L274.81 117.46L275.69 120.47L276.58 123.56L277.46 126.73L278.34 129.97L279.23 133.27L280.11 136.63L281 140.05L281.88 143.52L282.76 147.03L283.65 150.58L284.53 154.17L285.41 157.78L286.3 161.41L287.18 165.07L288.07 168.73L288.95 172.4L289.83 176.07L290.72 179.73L291.6 183.39L292.49 187.02L293.37 190.63L294.25 194.22L295.14 197.77L296.02 201.28L296.9 204.75L297.79 208.17L298.67 211.53L299.55 214.83L300.44 218.07L301.32 221.24L302.21 224.33L303.09 227.34L303.97 230.26L304.86 233.1L305.74 235.84L306.62 238.49L307.51 241.03L308.39 243.47L309.28 245.8L310.16 248.02L311.04 250.11L311.93 252.09L312.81 253.95L313.69 255.68L314.58 257.28L315.46 258.75L316.35 260.09L317.23 261.29L318.11 262.36L319 263.28L319.88 264.07L320.76 264.72L321.65 265.22L322.53 265.58L323.42 265.79L324.3 265.87L325.18 265.79L326.07 265.58L326.95 265.22L327.83 264.72L328.72 264.07L329.6 263.28L330.49 262.36L331.37 261.29L332.25 260.09L333.14 258.75L334.02 257.28L334.9 255.68L335.79 253.95L336.67 252.09L337.56 250.11L338.44 248.02L339.32 245.8L340.21 243.47L341.09 241.03L341.97 238.49L342.86 235.84L343.74 233.1L344.63 230.26L345.51 227.34L346.39 224.33L347.28 221.24L348.16 218.07L349.04 214.83L349.93 211.53L350.81 208.17L351.7 204.75L352.58 201.28L353.46 197.77L354.35 194.22L355.23 190.63L356.12 187.02L357 183.39L357.88 179.73L358.77 176.07L359.65 172.4" fill="none" stroke="#ff0000" stroke-width="1.25" stroke-linejoin="round"/><path d="M218.25 172.4L219.13 169.19L220.02 165.98L220.9 162.79L221.78 159.61L222.67 156.44L223.55 153.31L224.44 150.2L225.32 147.13L226.2 144.09L227.09 141.1L227.97 138.16L228.85 135.27L229.74 132.44L230.62 129.67L231.51 126.96L232.39 124.33L233.27 121.77L234.16 119.29L235.04 116.89L235.93 114.57L236.81 112.35L237.69 110.21L238.58 108.17L239.46 106.24L240.34 104.4L241.23 102.67L242.11 101.04L243 99.53L243.88 98.13L244.76 96.84L245.65 95.67L246.53 94.62L247.41 93.69L248.3 92.88L249.18 92.19L250.06 91.62L250.95 91.18L251.83 90.87L252.72 90.68L253.6 90.62L254.48 90.68L255.37 90.87L256.25 91.18L257.13 91.62L258.02 92.19L258.9 92.88L259.79 93.69L260.67 94.62L261.55 95.67L262.44 96.84L263.32 98.13L264.2 99.53L265.09 101.04L265.97 102.67L266.86 104.4L267.74 106.24L268.62 108.17L269.51 110.21L270.39 112.35L271.27 114.57L272.16 116.89L273.04 119.29L273.93 121.77L274.81 124.33L275.69 126.96L276.58 129.67L277.46 132.44L278.34 135.27L279.23 138.16L280.11 141.1L281 144.09L281.88 147.13L282.76 150.2L283.65 153.31L284.53 156.44L285.41 159.61L286.3 162.79L287.18 165.98L288.07 169.19L288.95 172.4L289.83 175.61L290.72 178.82L291.6 182.01L292.49 185.19L293.37 188.36L294.25 191.49L295.14 194.6L296.02 197.67L296.9 200.71L297.79 203.7L298.67 206.64L299.55 209.53L300.44 212.36L301.32 215.13L302.21 217.84L303.09 220.47L303.97 223.03L304.86 225.51L305.74 227.91L306.62 230.23L307.51 232.45L308.39 234.59L309.28 236.63L310.16 238.56L311.04 240.4L311.93 242.13L312.81 243.76L313.69 245.27L314.58 246.67L315.46 247.96L316.35 249.13L317.23 250.18L318.11 251.11L319 251.92L319.88 252.61L320.76 253.18L321.65 253.62L322.53 253.93L323.42 254.12L324.3 254.18L325.18 254.12L326.07 253.93L326.95 253.62L327.83 253.18L328.72 252.61L329.6 251.92L330.49 251.11L331.37 250.18L332.25 249.13L333.14 247.96L334.02 246.67L334.9 245.27L335.79 243.76L336.67 242.13L337.56 240.4L338.44 238.56L339.32 236.63L340.21 234.59L341.09 232.45L341.97 230.23L342.86 227.91L343.74 225.51L344.63 223.03L345.51 220.47L346.39 217.84L347.28 215.13L348.16 212.36L349.04 209.53L349.93 206.64L350.81 203.7L351.7 200.71L352.58 197.67L353.46 194.6L354.35 191.49L355.23 188.36L356.12 185.19L357 182.01L357.88 178.82L358.77 175.61L359.65 172.4" fill="none" stroke="#00ffff" stroke-width="1.25" stroke-linejoin="round"/><path d="M218.25 172.4L219.13 169.55L220.02 166.7L220.9 163.86L221.78 161.03L222.67 158.22L223.55 155.43L224.44 152.67L225.32 149.94L226.2 147.24L227.09 144.58L227.97 141.97L228.85 139.4L229.74 136.88L230.62 134.42L231.51 132.01L232.39 129.67L233.27 127.39L234.16 125.19L235.04 123.05L235.93 121L236.81 119.02L237.69 117.12L238.58 115.31L239.46 113.59L240.34 111.96L241.23 110.42L242.11 108.97L243 107.63L243.88 106.38L244.76 105.24L245.65 104.2L246.53 103.26L247.41 102.43L248.3 101.71L249.18 101.1L250.06 100.6L250.95 100.21L251.83 99.93L252.72 99.76L253.6 99.7L254.48 99.76L255.37 99.93L256.25 100.21L257.13 100.6L258.02 101.1L258.9 101.71L259.79 102.43L260.67 103.26L261.55 104.2L262.44 105.24L263.32 106.38L264.2 107.63L265.09 108.97L265.97 110.42L266.86 111.96L267.74 113.59L268.62 115.31L269.51 117.12L270.39 119.02L271.27 121L272.16 123.05L273.04 125.19L273.93 127.39L274.81 129.67L275.69 132.01L276.58 134.42L277.46 136.88L278.34 139.4L279.23 141.97L280.11 144.58L281 147.24L281.88 149.94L282.76 152.67L283.65 155.43L284.53 158.22L285.41 161.03L286.3 163.86L287.18 166.7L288.07 169.55L288.95 172.4L289.83 175.25L290.72 178.1L291.6 180.94L292.49 183.77L293.37 186.58L294.25 189.37L295.14 192.13L296.02 194.86L296.9 197.56L297.79 200.22L298.67 202.83L299.55 205.4L300.44 207.92L301.32 210.38L302.21 212.79L303.09 215.13L303.97 217.41L304.86 219.61L305.74 221.75L306.62 223.8L307.51 225.78L308.39 227.68L309.28 229.49L310.16 231.21L311.04 232.84L311.93 234.38L312.81 235.83L313.69 237.17L314.58 238.42L315.46 239.56L316.35 240.6L317.23 241.54L318.11 242.37L319 243.09L319.88 243.7L320.76 244.2L321.65 244.59L322.53 244.87L323.42 245.04L324.3 245.1L325.18 245.04L326.07 244.87L326.95 244.59L327.83 244.2L328.72 243.7L329.6 243.09L330.49 242.37L331.37 241.54L332.25 240.6L333.14 239.56L334.02 238.42L334.9 237.17L335.79 235.83L336.67 234.38L337.56 232.84L338.44 231.21L339.32 229.49L340.21 227.68L341.09 225.78L341.97 223.8L342.86 221.75L343.74 219.61L344.63 217.41L345.51 215.13L346.39 212.79L347.28 210.38L348.16 207.92L349.04 205.4L349.93 202.83L350.81 200.22L351.7 197.56L352.58 194.86L353.46 192.13L354.35 189.37L355.23 186.58L356.12 183.77L357 180.94L357.88 178.1L358.77 175.25L359.65 172.4" fill="none" stroke="#ff00ff" stroke-width="1.25" stroke-linejoin="round"/><path d="M218.25 172.4L219.13 169.83L220.02 167.27L220.9 164.71L221.78 162.17L222.67 159.64L223.55 157.13L224.44 154.64L225.32 152.18L226.2 149.75L227.09 147.36L227.97 145.01L228.85 142.7L229.74 140.43L230.62 138.21L231.51 136.05L232.39 133.94L233.27 131.9L234.16 129.91L235.04 127.99L235.93 126.14L236.81 124.36L237.69 122.65L238.58 121.02L239.46 119.47L240.34 118L241.23 116.61L242.11 115.32L243 114.1L243.88 112.98L244.76 111.95L245.65 111.02L246.53 110.18L247.41 109.43L248.3 108.78L249.18 108.23L250.06 107.78L250.95 107.43L251.83 107.18L252.72 107.02L253.6 106.97L254.48 107.02L255.37 107.18L256.25 107.43L257.13 107.78L258.02 108.23L258.9 108.78L259.79 109.43L260.67 110.18L261.55 111.02L262.44 111.95L263.32 112.98L264.2 114.1L265.09 115.32L265.97 116.61L266.86 118L267.74 119.47L268.62 121.02L269.51 122.65L270.39 124.36L271.27 126.14L272.16 127.99L273.04 129.91L273.93 131.9L274.81 133.94L275.69 136.05L276.58 138.21L277.46 140.43L278.34 142.7L279.23 145.01L280.11 147.36L281 149.75L281.88 152.18L282.76 154.64L283.65 157.13L284.53 159.64L285.41 162.17L286.3 164.71L287.18 167.27L288.07 169.83L288.95 172.4L289.83 174.97L290.72 177.53L291.6 180.09L292.49 182.63L293.37 185.16L294.25 187.67L295.14 190.16L296.02 192.62L296.9 195.05L297.79 197.44L298.67 199.79L299.55 202.1L300.44 204.37L301.32 206.59L302.21 208.75L303.09 210.86L303.97 212.9L304.86 214.89L305.74 216.81L306.62 218.66L307.51 220.44L308.39 222.15L309.28 223.78L310.16 225.33L311.04 226.8L311.93 228.19L312.81 229.48L313.69 230.7L314.58 231.82L315.46 232.85L316.35 233.78L317.23 234.62L318.11 235.37L319 236.02L319.88 236.57L320.76 237.02L321.65 237.37L322.53 237.62L323.42 237.78L324.3 237.83L325.18 237.78L326.07 237.62L326.95 237.37L327.83 237.02L328.72 236.57L329.6 236.02L330.49 235.37L331.37 234.62L332.25 233.78L333.14 232.85L334.02 231.82L334.9 230.7L335.79 229.48L336.67 228.19L337.56 226.8L338.44 225.33L339.32 223.78L340.21 222.15L341.09 220.44L341.97 218.66L342.86 216.81L343.74 214.89L344.63 212.9L345.51 210.86L346.39 208.75L347.28 206.59L348.16 204.37L349.04 202.1L349.93 199.79L350.81 197.44L351.7 195.05L352.58 192.62L353.46 190.16L354.35 187.67L355.23 185.16L356.12 182.63L357 180.09L357.88 177.53L358.77 174.97L359.65 172.4" fill="none" stroke="#ffff00" stroke-width="1.25" stroke-linejoin="round"/><path d="M218.25 172.4L219.13 170.06L220.02 167.73L220.9 165.41L221.78 163.1L222.67 160.8L223.55 158.52L224.44 156.26L225.32 154.02L226.2 151.81L227.09 149.64L227.97 147.5L228.85 145.4L229.74 143.34L230.62 141.32L231.51 139.36L232.39 137.44L233.27 135.58L234.16 133.77L235.04 132.03L235.93 130.34L236.81 128.72L237.69 127.17L238.58 125.69L239.46 124.28L240.34 122.95L241.23 121.69L242.11 120.51L243 119.4L243.88 118.39L244.76 117.45L245.65 116.6L246.53 115.83L247.41 115.15L248.3 114.56L249.18 114.06L250.06 113.65L250.95 113.33L251.83 113.1L252.72 112.97L253.6 112.92L254.48 112.97L255.37 113.1L256.25 113.33L257.13 113.65L258.02 114.06L258.9 114.56L259.79 115.15L260.67 115.83L261.55 116.6L262.44 117.45L263.32 118.39L264.2 119.4L265.09 120.51L265.97 121.69L266.86 122.95L267.74 124.28L268.62 125.69L269.51 127.17L270.39 128.72L271.27 130.34L272.16 132.03L273.04 133.77L273.93 135.58L274.81 137.44L275.69 139.36L276.58 141.32L277.46 143.34L278.34 145.4L279.23 147.5L280.11 149.64L281 151.81L281.88 154.02L282.76 156.26L283.65 158.52L284.53 160.8L285.41 163.1L286.3 165.41L287.18 167.73L288.07 170.06L288.95 172.4L289.83 174.74L290.72 177.07L291.6 179.39L292.49 181.7L293.37 184L294.25 186.28L295.14 188.54L296.02 190.78L296.9 192.99L297.79 195.16L298.67 197.3L299.55 199.4L300.44 201.46L301.32 203.48L302.21 205.44L303.09 207.36L303.97 209.22L304.86 211.03L305.74 212.77L306.62 214.46L307.51 216.08L308.39 217.63L309.28 219.11L310.16 220.52L311.04 221.85L311.93 223.11L312.81 224.29L313.69 225.4L314.58 226.41L315.46 227.35L316.35 228.2L317.23 228.97L318.11 229.65L319 230.24L319.88 230.74L320.76 231.15L321.65 231.47L322.53 231.7L323.42 231.83L324.3 231.88L325.18 231.83L326.07 231.7L326.95 231.47L327.83 231.15L328.72 230.74L329.6 230.24L330.49 229.65L331.37 228.97L332.25 228.2L333.14 227.35L334.02 226.41L334.9 225.4L335.79 224.29L336.67 223.11L337.56 221.85L338.44 220.52L339.32 219.11L340.21 217.63L341.09 216.08L341.97 214.46L342.86 212.77L343.74 211.03L344.63 209.22L345.51 207.36L346.39 205.44L347.28 203.48L348.16 201.46L349.04 199.4L349.93 197.3L350.81 195.16L351.7 192.99L352.58 190.78L353.46 188.54L354.35 186.28L355.23 184L356.12 181.7L357 179.39L357.88 177.07L358.77 174.74L359.65 172.4" fill="none" stroke="#000000" stroke-width="1.25" stroke-linejoin="round"/><path d="M218.25 172.4L219.13 170.26L220.02 168.12L220.9 165.99L221.78 163.87L222.67 161.76L223.55 159.67L224.44 157.6L225.32 155.55L226.2 153.53L227.09 151.54L227.97 149.57L228.85 147.65L229.74 145.76L230.62 143.91L231.51 142.11L232.39 140.35L233.27 138.65L234.16 136.99L235.04 135.39L235.93 133.85L236.81 132.36L237.69 130.94L238.58 129.58L239.46 128.29L240.34 127.07L241.23 125.91L242.11 124.83L243 123.82L243.88 122.89L244.76 122.03L245.65 121.25L246.53 120.55L247.41 119.93L248.3 119.38L249.18 118.93L250.06 118.55L250.95 118.26L251.83 118.05L252.72 117.92L253.6 117.88L254.48 117.92L255.37 118.05L256.25 118.26L257.13 118.55L258.02 118.93L258.9 119.38L259.79 119.93L260.67 120.55L261.55 121.25L262.44 122.03L263.32 122.89L264.2 123.82L265.09 124.83L265.97 125.91L266.86 127.07L267.74 128.29L268.62 129.58L269.51 130.94L270.39 132.36L271.27 133.85L272.16 135.39L273.04 136.99L273.93 138.65L274.81 140.35L275.69 142.11L276.58 143.91L277.46 145.76L278.34 147.65L279.23 149.57L280.11 151.54L281 153.53L281.88 155.55L282.76 157.6L283.65 159.67L284.53 161.76L285.41 163.87L286.3 165.99L287.18 168.12L288.07 170.26L288.95 172.4L289.83 174.54L290.72 176.68L291.6 178.81L292.49 180.93L293.37 183.04L294.25 185.13L295.14 187.2L296.02 189.25L296.9 191.27L297.79 193.26L298.67 195.23L299.55 197.15L300.44 199.04L301.32 200.89L302.21 202.69L303.09 204.45L303.97 206.15L304.86 207.81L305.74 209.41L306.62 210.95L307.51 212.44L308.39 213.86L309.28 215.22L310.16 216.51L311.04 217.73L311.93 218.89L312.81 219.97L313.69 220.98L314.58 221.91L315.46 222.77L316.35 223.55L317.23 224.25L318.11 224.87L319 225.42L319.88 225.87L320.76 226.25L321.65 226.54L322.53 226.75L323.42 226.88L324.3 226.92L325.18 226.88L326.07 226.75L326.95 226.54L327.83 226.25L328.72 225.87L329.6 225.42L330.49 224.87L331.37 224.25L332.25 223.55L333.14 222.77L334.02 221.91L334.9 220.98L335.79 219.97L336.67 218.89L337.56 217.73L338.44 216.51L339.32 215.22L340.21 213.86L341.09 212.44L341.97 210.95L342.86 209.41L343.74 207.81L344.63 206.15L345.51 204.45L346.39 202.69L347.28 200.89L348.16 199.04L349.04 197.15L349.93 195.23L350.81 193.26L351.7 191.27L352.58 189.25L353.46 187.2L354.35 185.13L355.23 183.04L356.12 180.93L357 178.81L357.88 176.68L358.77 174.54L359.65 172.4" fill="none" stroke="#0000ff" stroke-width="1.25" stroke-linejoin="round"/><path d="M218.25 172.4L219.13 170.42L220.02 168.45L220.9 166.48L221.78 164.53L222.67 162.58L223.55 160.65L224.44 158.74L225.32 156.85L226.2 154.98L227.09 153.14L227.97 151.33L228.85 149.55L229.74 147.81L230.62 146.1L231.51 144.44L232.39 142.82L233.27 141.24L234.16 139.71L235.04 138.24L235.93 136.81L236.81 135.44L237.69 134.13L238.58 132.88L239.46 131.68L240.34 130.55L241.23 129.49L242.11 128.49L243 127.56L243.88 126.7L244.76 125.9L245.65 125.18L246.53 124.54L247.41 123.96L248.3 123.46L249.18 123.04L250.06 122.69L250.95 122.42L251.83 122.23L252.72 122.11L253.6 122.07L254.48 122.11L255.37 122.23L256.25 122.42L257.13 122.69L258.02 123.04L258.9 123.46L259.79 123.96L260.67 124.54L261.55 125.18L262.44 125.9L263.32 126.7L264.2 127.56L265.09 128.49L265.97 129.49L266.86 130.55L267.74 131.68L268.62 132.88L269.51 134.13L270.39 135.44L271.27 136.81L272.16 138.24L273.04 139.71L273.93 141.24L274.81 142.82L275.69 144.44L276.58 146.1L277.46 147.81L278.34 149.55L279.23 151.33L280.11 153.14L281 154.98L281.88 156.85L282.76 158.74L283.65 160.65L284.53 162.58L285.41 164.53L286.3 166.48L287.18 168.45L288.07 170.42L288.95 172.4L289.83 174.38L290.72 176.35L291.6 178.32L292.49 180.27L293.37 182.22L294.25 184.15L295.14 186.06L296.02 187.95L296.9 189.82L297.79 191.66L298.67 193.47L299.55 195.25L300.44 196.99L301.32 198.7L302.21 200.36L303.09 201.98L303.97 203.56L304.86 205.09L305.74 206.56L306.62 207.99L307.51 209.36L308.39 210.67L309.28 211.92L310.16 213.12L311.04 214.25L311.93 215.31L312.81 216.31L313.69 217.24L314.58 218.1L315.46 218.9L316.35 219.62L317.23 220.26L318.11 220.84L319 221.34L319.88 221.76L320.76 222.11L321.65 222.38L322.53 222.57L323.42 222.69L324.3 222.73L325.18 222.69L326.07 222.57L326.95 222.38L327.83 222.11L328.72 221.76L329.6 221.34L330.49 220.84L331.37 220.26L332.25 219.62L333.14 218.9L334.02 218.1L334.9 217.24L335.79 216.31L336.67 215.31L337.56 214.25L338.44 213.12L339.32 211.92L340.21 210.67L341.09 209.36L341.97 207.99L342.86 206.56L343.74 205.09L344.63 203.56L345.51 201.98L346.39 200.36L347.28 198.7L348.16 196.99L349.04 195.25L349.93 193.47L350.81 191.66L351.7 189.82L352.58 187.95L353.46 186.06L354.35 184.15L355.23 182.22L356.12 180.27L357 178.32L357.88 176.35L358.77 174.38L359.65 172.4" fill="none" stroke="#00ff00" stroke-width="1.25" stroke-linejoin="round"/><path d="M218.25 172.4L219.13 170.57L220.02 168.73L220.9 166.91L221.78 165.09L222.67 163.28L223.55 161.49L224.44 159.71L225.32 157.96L226.2 156.22L227.09 154.52L227.97 152.83L228.85 151.18L229.74 149.57L230.62 147.98L231.51 146.44L232.39 144.93L233.27 143.47L234.16 142.05L235.04 140.68L235.93 139.35L236.81 138.08L237.69 136.86L238.58 135.7L239.46 134.59L240.34 133.54L241.23 132.55L242.11 131.63L243 130.76L243.88 129.96L244.76 129.22L245.65 128.56L246.53 127.95L247.41 127.42L248.3 126.96L249.18 126.56L250.06 126.24L250.95 125.99L251.83 125.81L252.72 125.7L253.6 125.67L254.48 125.7L255.37 125.81L256.25 125.99L257.13 126.24L258.02 126.56L258.9 126.96L259.79 127.42L260.67 127.95L261.55 128.56L262.44 129.22L263.32 129.96L264.2 130.76L265.09 131.63L265.97 132.55L266.86 133.54L267.74 134.59L268.62 135.7L269.51 136.86L270.39 138.08L271.27 139.35L272.16 140.68L273.04 142.05L273.93 143.47L274.81 144.93L275.69 146.44L276.58 147.98L277.46 149.57L278.34 151.18L279.23 152.83L280.11 154.52L281 156.22L281.88 157.96L282.76 159.71L283.65 161.49L284.53 163.28L285.41 165.09L286.3 166.91L287.18 168.73L288.07 170.57L288.95 172.4L289.83 174.23L290.72 176.07L291.6 177.89L292.49 179.71L293.37 181.52L294.25 183.31L295.14 185.09L296.02 186.84L296.9 188.58L297.79 190.28L298.67 191.97L299.55 193.62L300.44 195.23L301.32 196.82L302.21 198.36L303.09 199.87L303.97 201.33L304.86 202.75L305.74 204.12L306.62 205.45L307.51 206.72L308.39 207.94L309.28 209.1L310.16 210.21L311.04 211.26L311.93 212.25L312.81 213.17L313.69 214.04L314.58 214.84L315.46 215.58L316.35 216.24L317.23 216.85L318.11 217.38L319 217.84L319.88 218.24L320.76 218.56L321.65 218.81L322.53 218.99L323.42 219.1L324.3 219.13L325.18 219.1L326.07 218.99L326.95 218.81L327.83 218.56L328.72 218.24L329.6 217.84L330.49 217.38L331.37 216.85L332.25 216.24L333.14 215.58L334.02 214.84L334.9 214.04L335.79 213.17L336.67 212.25L337.56 211.26L338.44 210.21L339.32 209.1L340.21 207.94L341.09 206.72L341.97 205.45L342.86 204.12L343.74 202.75L344.63 201.33L345.51 199.87L346.39 198.36L347.28 196.82L348.16 195.23L349.04 193.62L349.93 191.97L350.81 190.28L351.7 188.58L352.58 186.84L353.46 185.09L354.35 183.31L355.23 181.52L356.12 179.71L357 177.89L357.88 176.07L358.77 174.23L359.65 172.4" fill="none" stroke="#ff0000" stroke-width="1.25" stroke-linejoin="round"/></g>
<g><polygon fill="#0000ff" stroke="#0000ff" stroke-width="0.7" stroke-linejoin="round" points="404.2,171.34 404.91,167.97 405.61,164.6 406.32,161.23 407.03,157.87 407.74,154.51 408.44,151.18 409.15,147.85 409.86,144.56 410.56,141.28 411.27,138.04 411.98,134.82 412.68,131.64 413.39,128.5 414.1,125.4 414.81,122.34 415.51,119.33 416.22,116.37 416.93,113.47 417.63,110.62 418.34,107.83 419.05,105.1 419.75,102.44 420.46,99.84 421.17,97.32 421.88,94.87 422.58,92.49 423.29,90.19 424,87.97 424.7,85.84 425.41,83.78 426.12,81.82 426.82,79.94 427.53,78.15 428.24,76.46 428.94,74.86 429.65,73.35 430.36,71.95 431.07,70.64 431.77,69.43 432.48,68.32 433.19,67.31 433.89,66.41 434.6,65.61 435.31,64.91 436.01,64.33 436.72,63.84 437.43,63.47 438.14,63.2 438.84,63.04 439.55,62.98 440.26,63.04 440.96,63.2 441.67,63.47 442.38,63.84 443.08,64.33 443.79,64.91 444.5,65.61 445.21,66.41 445.91,67.31 446.62,68.32 447.33,69.43 448.03,70.64 448.74,71.95 449.45,73.35 450.15,74.86 450.86,76.46 451.57,78.15 452.28,79.94 452.98,81.82 453.69,83.78 454.4,85.84 455.1,87.97 455.81,90.19 456.52,92.49 457.23,94.87 457.93,97.32 458.64,99.84 459.35,102.44 460.05,105.1 460.76,107.83 461.47,110.62 462.17,113.47 462.88,116.37 463.59,119.33 464.3,122.34 465,125.4 465.71,128.5 466.42,131.64 467.12,134.82 467.83,138.04 468.54,141.28 469.24,144.56 469.95,147.85 470.66,151.18 471.37,154.51 472.07,157.87 472.78,161.23 473.49,164.6 474.19,167.97 474.9,171.34 475.61,174.54 476.31,177.88 477.02,181.22 477.73,184.54 478.44,187.84 479.14,191.13 479.85,194.39 480.56,197.63 481.26,200.84 481.97,204.01 482.68,207.16 483.38,210.27 484.09,213.33 484.8,216.36 485.5,219.34 486.21,222.27 486.92,225.15 487.63,227.97 488.33,230.74 489.04,233.45 489.75,236.09 490.45,238.67 491.16,241.19 491.87,243.63 492.58,246.01 493.28,248.31 493.99,250.53 494.7,252.67 495.4,254.74 496.11,256.72 496.82,258.62 497.52,260.43 498.23,262.15 498.94,263.79 499.65,265.33 500.35,266.78 501.06,268.14 501.77,269.4 502.47,270.56 503.18,271.63 503.89,272.6 504.59,273.47 505.3,274.24 506.01,274.91 506.72,275.47 507.42,275.94 508.13,276.3 508.84,276.56 509.54,276.71 510.25,276.76 510.96,276.71 511.66,276.56 512.37,276.3 513.08,275.94 513.79,275.47 514.49,274.91 515.2,274.24 515.91,273.47 516.61,272.6 517.32,271.63 518.03,270.56 518.73,269.4 519.44,268.14 520.15,266.78 520.86,265.33 521.56,263.79 522.27,262.15 522.98,260.43 523.68,258.62 524.39,256.72 525.1,254.74 525.8,252.67 526.51,250.53 527.22,248.31 527.92,246.01 528.63,243.63 529.34,241.19 530.05,238.67 530.75,236.09 531.46,233.45 532.17,230.74 532.87,227.97 533.58,225.15 534.29,222.27 535,219.34 535.7,216.36 536.41,213.33 537.12,210.27 537.82,207.16 538.53,204.01 539.24,200.84 539.94,197.63 540.65,194.39 541.36,191.13 542.07,187.84 542.77,184.54 543.48,181.22 544.19,177.88 544.89,174.54 545.6,171.18 545.6,173.62 544.89,176.99 544.19,180.36 543.48,183.73 542.77,187.1 542.07,190.46 541.36,193.8 540.65,197.12 539.94,200.43 539.24,203.71 538.53,206.96 537.82,210.18 537.12,213.36 536.41,216.51 535.7,219.62 535,222.68 534.29,225.69 533.58,228.66 532.87,231.57 532.17,234.42 531.46,237.22 530.75,239.95 530.05,242.62 529.34,245.22 528.63,247.75 527.92,250.21 527.22,252.59 526.51,254.89 525.8,257.12 525.1,259.26 524.39,261.32 523.68,263.29 522.98,265.17 522.27,266.96 521.56,268.66 520.86,270.26 520.15,271.77 519.44,273.18 518.73,274.5 518.03,275.71 517.32,276.82 516.61,277.83 515.91,278.74 515.2,279.54 514.49,280.23 513.79,280.82 513.08,281.31 512.37,281.68 511.66,281.95 510.96,282.12 510.25,282.17 509.54,282.12 508.84,281.95 508.13,281.68 507.42,281.31 506.72,280.82 506.01,280.23 505.3,279.54 504.59,278.74 503.89,277.83 503.18,276.82 502.47,275.71 501.77,274.5 501.06,273.18 500.35,271.77 499.65,270.26 498.94,268.66 498.23,266.96 497.52,265.17 496.82,263.29 496.11,261.32 495.4,259.26 494.7,257.12 493.99,254.89 493.28,252.59 492.58,250.21 491.87,247.75 491.16,245.22 490.45,242.62 489.75,239.95 489.04,237.22 488.33,234.42 487.63,231.57 486.92,228.66 486.21,225.69 485.5,222.68 484.8,219.62 484.09,216.51 483.38,213.36 482.68,210.18 481.97,206.96 481.26,203.71 480.56,200.43 479.85,197.12 479.14,193.8 478.44,190.46 477.73,187.1 477.02,183.73 476.31,180.36 475.61,176.99 474.9,173.46 474.19,170.1 473.49,166.76 472.78,163.42 472.07,160.1 471.37,156.79 470.66,153.5 469.95,150.23 469.24,146.99 468.54,143.78 467.83,140.59 467.12,137.44 466.42,134.33 465.71,131.26 465,128.23 464.3,125.25 463.59,122.31 462.88,119.43 462.17,116.6 461.47,113.82 460.76,111.11 460.05,108.46 459.35,105.87 458.64,103.35 457.93,100.9 457.23,98.52 456.52,96.21 455.81,93.99 455.1,91.84 454.4,89.77 453.69,87.78 452.98,85.88 452.28,84.06 451.57,82.33 450.86,80.69 450.15,79.15 449.45,77.69 448.74,76.33 448.03,75.07 447.33,73.9 446.62,72.83 445.91,71.86 445.21,70.99 444.5,70.22 443.79,69.55 443.08,68.98 442.38,68.51 441.67,68.15 440.96,67.89 440.26,67.74 439.55,67.68 438.84,67.74 438.14,67.89 437.43,68.15 436.72,68.51 436.01,68.98 435.31,69.55 434.6,70.22 433.89,70.99 433.19,71.86 432.48,72.83 431.77,73.9 431.07,75.07 430.36,76.33 429.65,77.69 428.94,79.15 428.24,80.69 427.53,82.33 426.82,84.06 426.12,85.88 425.41,87.78 424.7,89.77 424,91.84 423.29,93.99 422.58,96.21 421.88,98.52 421.17,100.9 420.46,103.35 419.75,105.87 419.05,108.46 418.34,111.11 417.63,113.82 416.93,116.6 416.22,119.43 415.51,122.31 414.81,125.25 414.1,128.23 413.39,131.26 412.68,134.33 411.98,137.44 411.27,140.59 410.56,143.78 409.86,146.99 409.15,150.23 408.44,153.5 407.74,156.79 407.03,160.1 406.32,163.42 405.61,166.76 404.91,170.1 404.2,173.46"/><polygon fill="#00ff00" stroke="#00ff00" stroke-width="0.7" stroke-linejoin="round" points="404.2,171.68 404.91,168.87 405.61,166.06 406.32,163.26 407.03,160.46 407.74,157.67 408.44,154.89 409.15,152.13 409.86,149.38 410.56,146.66 411.27,143.96 411.98,141.28 412.68,138.64 413.39,136.03 414.1,133.45 414.81,130.9 415.51,128.4 416.22,125.94 416.93,123.53 417.63,121.16 418.34,118.84 419.05,116.57 419.75,114.36 420.46,112.2 421.17,110.1 421.88,108.07 422.58,106.09 423.29,104.18 424,102.34 424.7,100.56 425.41,98.86 426.12,97.22 426.82,95.66 427.53,94.18 428.24,92.77 428.94,91.44 429.65,90.19 430.36,89.02 431.07,87.93 431.77,86.93 432.48,86.01 433.19,85.17 433.89,84.42 434.6,83.76 435.31,83.18 436.01,82.69 436.72,82.29 437.43,81.98 438.14,81.76 438.84,81.62 439.55,81.58 440.26,81.62 440.96,81.76 441.67,81.98 442.38,82.29 443.08,82.69 443.79,83.18 444.5,83.76 445.21,84.42 445.91,85.17 446.62,86.01 447.33,86.93 448.03,87.93 448.74,89.02 449.45,90.19 450.15,91.44 450.86,92.77 451.57,94.18 452.28,95.66 452.98,97.22 453.69,98.86 454.4,100.56 455.1,102.34 455.81,104.18 456.52,106.09 457.23,108.07 457.93,110.1 458.64,112.2 459.35,114.36 460.05,116.57 460.76,118.84 461.47,121.16 462.17,123.53 462.88,125.94 463.59,128.4 464.3,130.9 465,133.45 465.71,136.03 466.42,138.64 467.12,141.28 467.83,143.96 468.54,146.66 469.24,149.38 469.95,152.13 470.66,154.89 471.37,157.67 472.07,160.46 472.78,163.26 473.49,166.06 474.19,168.87 474.9,171.68 475.61,174.37 476.31,177.16 477.02,179.94 477.73,182.71 478.44,185.47 479.14,188.21 479.85,190.93 480.56,193.64 481.26,196.32 481.97,198.97 482.68,201.6 483.38,204.19 484.09,206.75 484.8,209.28 485.5,211.77 486.21,214.22 486.92,216.62 487.63,218.98 488.33,221.3 489.04,223.56 489.75,225.77 490.45,227.93 491.16,230.03 491.87,232.08 492.58,234.06 493.28,235.98 493.99,237.84 494.7,239.63 495.4,241.36 496.11,243.02 496.82,244.6 497.52,246.12 498.23,247.56 498.94,248.93 499.65,250.22 500.35,251.43 501.06,252.57 501.77,253.62 502.47,254.6 503.18,255.49 503.89,256.3 504.59,257.03 505.3,257.67 506.01,258.23 506.72,258.7 507.42,259.09 508.13,259.39 508.84,259.61 509.54,259.74 510.25,259.78 510.96,259.74 511.66,259.61 512.37,259.39 513.08,259.09 513.79,258.7 514.49,258.23 515.2,257.67 515.91,257.03 516.61,256.3 517.32,255.49 518.03,254.6 518.73,253.62 519.44,252.57 520.15,251.43 520.86,250.22 521.56,248.93 522.27,247.56 522.98,246.12 523.68,244.6 524.39,243.02 525.1,241.36 525.8,239.63 526.51,237.84 527.22,235.98 527.92,234.06 528.63,232.08 529.34,230.03 530.05,227.93 530.75,225.77 531.46,223.56 532.17,221.3 532.87,218.98 533.58,216.62 534.29,214.22 535,211.77 535.7,209.28 536.41,206.75 537.12,204.19 537.82,201.6 538.53,198.97 539.24,196.32 539.94,193.64 540.65,190.93 541.36,188.21 542.07,185.47 542.77,182.71 543.48,179.94 544.19,177.16 544.89,174.37 545.6,171.57 545.6,173.23 544.89,176.04 544.19,178.85 543.48,181.65 542.77,184.46 542.07,187.25 541.36,190.03 540.65,192.79 539.94,195.54 539.24,198.27 538.53,200.97 537.82,203.65 537.12,206.3 536.41,208.92 535.7,211.5 535,214.04 534.29,216.55 533.58,219.01 532.87,221.43 532.17,223.8 531.46,226.13 530.75,228.4 530.05,230.62 529.34,232.78 528.63,234.88 527.92,236.92 527.22,238.9 526.51,240.81 525.8,242.66 525.1,244.44 524.39,246.15 523.68,247.78 522.98,249.35 522.27,250.83 521.56,252.24 520.86,253.58 520.15,254.83 519.44,256 518.73,257.09 518.03,258.1 517.32,259.02 516.61,259.86 515.91,260.61 515.2,261.28 514.49,261.86 513.79,262.35 513.08,262.75 512.37,263.06 511.66,263.28 510.96,263.42 510.25,263.46 509.54,263.42 508.84,263.28 508.13,263.06 507.42,262.75 506.72,262.35 506.01,261.86 505.3,261.28 504.59,260.61 503.89,259.86 503.18,259.02 502.47,258.1 501.77,257.09 501.06,256 500.35,254.83 499.65,253.58 498.94,252.24 498.23,250.83 497.52,249.35 496.82,247.78 496.11,246.15 495.4,244.44 494.7,242.66 493.99,240.81 493.28,238.9 492.58,236.92 491.87,234.88 491.16,232.78 490.45,230.62 489.75,228.4 489.04,226.13 488.33,223.8 487.63,221.43 486.92,219.01 486.21,216.55 485.5,214.04 484.8,211.5 484.09,208.92 483.38,206.3 482.68,203.65 481.97,200.97 481.26,198.27 480.56,195.54 479.85,192.79 479.14,190.03 478.44,187.25 477.73,184.46 477.02,181.65 476.31,178.85 475.61,176.04 474.9,173.12 474.19,170.32 473.49,167.53 472.78,164.75 472.07,161.98 471.37,159.22 470.66,156.47 469.95,153.75 469.24,151.04 468.54,148.36 467.83,145.7 467.12,143.07 466.42,140.47 465.71,137.91 465,135.38 464.3,132.88 463.59,130.43 462.88,128.02 462.17,125.66 461.47,123.34 460.76,121.07 460.05,118.86 459.35,116.7 458.64,114.59 457.93,112.54 457.23,110.55 456.52,108.63 455.81,106.77 455.1,104.97 454.4,103.24 453.69,101.58 452.98,99.99 452.28,98.47 451.57,97.03 450.86,95.66 450.15,94.36 449.45,93.15 448.74,92.01 448.03,90.95 447.33,89.98 446.62,89.08 445.91,88.27 445.21,87.54 444.5,86.89 443.79,86.33 443.08,85.86 442.38,85.47 441.67,85.17 440.96,84.95 440.26,84.82 439.55,84.78 438.84,84.82 438.14,84.95 437.43,85.17 436.72,85.47 436.01,85.86 435.31,86.33 434.6,86.89 433.89,87.54 433.19,88.27 432.48,89.08 431.77,89.98 431.07,90.95 430.36,92.01 429.65,93.15 428.94,94.36 428.24,95.66 427.53,97.03 426.82,98.47 426.12,99.99 425.41,101.58 424.7,103.24 424,104.97 423.29,106.77 422.58,108.63 421.88,110.55 421.17,112.54 420.46,114.59 419.75,116.7 419.05,118.86 418.34,121.07 417.63,123.34 416.93,125.66 416.22,128.02 415.51,130.43 414.81,132.88 414.1,135.38 413.39,137.91 412.68,140.47 411.98,143.07 411.27,145.7 410.56,148.36 409.86,151.04 409.15,153.75 408.44,156.47 407.74,159.22 407.03,161.98 406.32,164.75 405.61,167.53 404.91,170.32 404.2,173.12"/><polygon fill="#ff0000" stroke="#ff0000" stroke-width="0.7" stroke-linejoin="round" points="404.2,171.81 404.91,169.41 405.61,167 406.32,164.6 407.03,162.2 407.74,159.81 408.44,157.43 409.15,155.06 409.86,152.71 410.56,150.37 411.27,148.06 411.98,145.77 412.68,143.5 413.39,141.26 414.1,139.05 414.81,136.88 415.51,134.73 416.22,132.63 416.93,130.56 417.63,128.53 418.34,126.54 419.05,124.6 419.75,122.7 420.46,120.86 421.17,119.06 421.88,117.31 422.58,115.62 423.29,113.98 424,112.41 424.7,110.88 425.41,109.42 426.12,108.03 426.82,106.69 427.53,105.42 428.24,104.21 428.94,103.07 429.65,102 430.36,101 431.07,100.07 431.77,99.21 432.48,98.42 433.19,97.7 433.89,97.06 434.6,96.49 435.31,96 436.01,95.58 436.72,95.24 437.43,94.97 438.14,94.78 438.84,94.66 439.55,94.62 440.26,94.66 440.96,94.78 441.67,94.97 442.38,95.24 443.08,95.58 443.79,96 444.5,96.49 445.21,97.06 445.91,97.7 446.62,98.42 447.33,99.21 448.03,100.07 448.74,101 449.45,102 450.15,103.07 450.86,104.21 451.57,105.42 452.28,106.69 452.98,108.03 453.69,109.42 454.4,110.88 455.1,112.41 455.81,113.98 456.52,115.62 457.23,117.31 457.93,119.06 458.64,120.86 459.35,122.7 460.05,124.6 460.76,126.54 461.47,128.53 462.17,130.56 462.88,132.63 463.59,134.73 464.3,136.88 465,139.05 465.71,141.26 466.42,143.5 467.12,145.77 467.83,148.06 468.54,150.37 469.24,152.71 469.95,155.06 470.66,157.43 471.37,159.81 472.07,162.2 472.78,164.6 473.49,167 474.19,169.41 474.9,171.81 475.61,174.12 476.31,176.52 477.02,178.9 477.73,181.28 478.44,183.64 479.14,185.99 479.85,188.33 480.56,190.64 481.26,192.94 481.97,195.22 482.68,197.47 483.38,199.7 484.09,201.89 484.8,204.06 485.5,206.2 486.21,208.29 486.92,210.36 487.63,212.38 488.33,214.37 489.04,216.31 489.75,218.21 490.45,220.06 491.16,221.86 491.87,223.61 492.58,225.32 493.28,226.96 493.99,228.56 494.7,230.1 495.4,231.58 496.11,233 496.82,234.36 497.52,235.66 498.23,236.9 498.94,238.07 499.65,239.18 500.35,240.22 501.06,241.19 501.77,242.1 502.47,242.93 503.18,243.7 503.89,244.39 504.59,245.02 505.3,245.57 506.01,246.05 506.72,246.45 507.42,246.79 508.13,247.05 508.84,247.23 509.54,247.34 510.25,247.38 510.96,247.34 511.66,247.23 512.37,247.05 513.08,246.79 513.79,246.45 514.49,246.05 515.2,245.57 515.91,245.02 516.61,244.39 517.32,243.7 518.03,242.93 518.73,242.1 519.44,241.19 520.15,240.22 520.86,239.18 521.56,238.07 522.27,236.9 522.98,235.66 523.68,234.36 524.39,233 525.1,231.58 525.8,230.1 526.51,228.56 527.22,226.96 527.92,225.32 528.63,223.61 529.34,221.86 530.05,220.06 530.75,218.21 531.46,216.31 532.17,214.37 532.87,212.38 533.58,210.36 534.29,208.29 535,206.2 535.7,204.06 536.41,201.89 537.12,199.7 537.82,197.47 538.53,195.22 539.24,192.94 539.94,190.64 540.65,188.33 541.36,185.99 542.07,183.64 542.77,181.28 543.48,178.9 544.19,176.52 544.89,174.12 545.6,171.73 545.6,173.07 544.89,175.48 544.19,177.89 543.48,180.29 542.77,182.69 542.07,185.09 541.36,187.47 540.65,189.84 539.94,192.19 539.24,194.53 538.53,196.85 537.82,199.14 537.12,201.41 536.41,203.65 535.7,205.86 535,208.04 534.29,210.19 533.58,212.3 532.87,214.37 532.17,216.41 531.46,218.39 530.75,220.34 530.05,222.24 529.34,224.09 528.63,225.89 527.92,227.64 527.22,229.33 526.51,230.97 525.8,232.55 525.1,234.08 524.39,235.54 523.68,236.94 522.98,238.28 522.27,239.56 521.56,240.76 520.86,241.91 520.15,242.98 519.44,243.98 518.73,244.92 518.03,245.78 517.32,246.57 516.61,247.29 515.91,247.93 515.2,248.5 514.49,248.99 513.79,249.41 513.08,249.76 512.37,250.03 511.66,250.22 510.96,250.33 510.25,250.37 509.54,250.33 508.84,250.22 508.13,250.03 507.42,249.76 506.72,249.41 506.01,248.99 505.3,248.5 504.59,247.93 503.89,247.29 503.18,246.57 502.47,245.78 501.77,244.92 501.06,243.98 500.35,242.98 499.65,241.91 498.94,240.76 498.23,239.56 497.52,238.28 496.82,236.94 496.11,235.54 495.4,234.08 494.7,232.55 493.99,230.97 493.28,229.33 492.58,227.64 491.87,225.89 491.16,224.09 490.45,222.24 489.75,220.34 489.04,218.39 488.33,216.41 487.63,214.37 486.92,212.3 486.21,210.19 485.5,208.04 484.8,205.86 484.09,203.65 483.38,201.41 482.68,199.14 481.97,196.85 481.26,194.53 480.56,192.19 479.85,189.84 479.14,187.47 478.44,185.09 477.73,182.69 477.02,180.29 476.31,177.89 475.61,175.48 474.9,172.98 474.19,170.59 473.49,168.19 472.78,165.81 472.07,163.43 471.37,161.07 470.66,158.71 469.95,156.38 469.24,154.05 468.54,151.75 467.83,149.48 467.12,147.22 466.42,144.99 465.71,142.79 465,140.62 464.3,138.48 463.59,136.38 462.88,134.32 462.17,132.29 461.47,130.3 460.76,128.36 460.05,126.46 459.35,124.6 458.64,122.79 457.93,121.04 457.23,119.33 456.52,117.68 455.81,116.08 455.1,114.54 454.4,113.06 453.69,111.63 452.98,110.27 452.28,108.97 451.57,107.73 450.86,106.55 450.15,105.45 449.45,104.4 448.74,103.43 448.03,102.52 447.33,101.68 446.62,100.91 445.91,100.22 445.21,99.59 444.5,99.04 443.79,98.56 443.08,98.15 442.38,97.82 441.67,97.56 440.96,97.37 440.26,97.26 439.55,97.22 438.84,97.26 438.14,97.37 437.43,97.56 436.72,97.82 436.01,98.15 435.31,98.56 434.6,99.04 433.89,99.59 433.19,100.22 432.48,100.91 431.77,101.68 431.07,102.52 430.36,103.43 429.65,104.4 428.94,105.45 428.24,106.55 427.53,107.73 426.82,108.97 426.12,110.27 425.41,111.63 424.7,113.06 424,114.54 423.29,116.08 422.58,117.68 421.88,119.33 421.17,121.04 420.46,122.79 419.75,124.6 419.05,126.46 418.34,128.36 417.63,130.3 416.93,132.29 416.22,134.32 415.51,136.38 414.81,138.48 414.1,140.62 413.39,142.79 412.68,144.99 411.98,147.22 411.27,149.48 410.56,151.75 409.86,154.05 409.15,156.38 408.44,158.71 407.74,161.07 407.03,163.43 406.32,165.81 405.61,168.19 404.91,170.59 404.2,172.98"/><polygon fill="#00ffff" stroke="#00ffff" stroke-width="0.7" stroke-linejoin="round" points="404.2,171.97 404.91,169.87 405.61,167.76 406.32,165.66 407.03,163.56 407.74,161.47 408.44,159.39 409.15,157.32 409.86,155.27 410.56,153.23 411.27,151.2 411.98,149.2 412.68,147.22 413.39,145.27 414.1,143.34 414.81,141.43 415.51,139.56 416.22,137.72 416.93,135.91 417.63,134.14 418.34,132.4 419.05,130.71 419.75,129.05 420.46,127.44 421.17,125.87 421.88,124.34 422.58,122.87 423.29,121.44 424,120.06 424.7,118.73 425.41,117.46 426.12,116.23 426.82,115.07 427.53,113.96 428.24,112.9 428.94,111.91 429.65,110.97 430.36,110.1 431.07,109.29 431.77,108.54 432.48,107.85 433.19,107.22 433.89,106.66 434.6,106.16 435.31,105.73 436.01,105.37 436.72,105.07 437.43,104.83 438.14,104.67 438.84,104.57 439.55,104.53 440.26,104.57 440.96,104.67 441.67,104.83 442.38,105.07 443.08,105.37 443.79,105.73 444.5,106.16 445.21,106.66 445.91,107.22 446.62,107.85 447.33,108.54 448.03,109.29 448.74,110.1 449.45,110.97 450.15,111.91 450.86,112.9 451.57,113.96 452.28,115.07 452.98,116.23 453.69,117.46 454.4,118.73 455.1,120.06 455.81,121.44 456.52,122.87 457.23,124.34 457.93,125.87 458.64,127.44 459.35,129.05 460.05,130.71 460.76,132.4 461.47,134.14 462.17,135.91 462.88,137.72 463.59,139.56 464.3,141.43 465,143.34 465.71,145.27 466.42,147.22 467.12,149.2 467.83,151.2 468.54,153.23 469.24,155.27 469.95,157.32 470.66,159.39 471.37,161.47 472.07,163.56 472.78,165.66 473.49,167.76 474.19,169.87 474.9,171.97 475.61,174.01 476.31,176.1 477.02,178.19 477.73,180.27 478.44,182.34 479.14,184.4 479.85,186.44 480.56,188.48 481.26,190.49 481.97,192.48 482.68,194.46 483.38,196.41 484.09,198.33 484.8,200.23 485.5,202.1 486.21,203.94 486.92,205.75 487.63,207.53 488.33,209.27 489.04,210.97 489.75,212.63 490.45,214.26 491.16,215.84 491.87,217.38 492.58,218.87 493.28,220.31 493.99,221.71 494.7,223.06 495.4,224.36 496.11,225.61 496.82,226.8 497.52,227.94 498.23,229.03 498.94,230.05 499.65,231.03 500.35,231.94 501.06,232.79 501.77,233.59 502.47,234.32 503.18,234.99 503.89,235.6 504.59,236.15 505.3,236.63 506.01,237.05 506.72,237.41 507.42,237.7 508.13,237.93 508.84,238.09 509.54,238.19 510.25,238.22 510.96,238.19 511.66,238.09 512.37,237.93 513.08,237.7 513.79,237.41 514.49,237.05 515.2,236.63 515.91,236.15 516.61,235.6 517.32,234.99 518.03,234.32 518.73,233.59 519.44,232.79 520.15,231.94 520.86,231.03 521.56,230.05 522.27,229.03 522.98,227.94 523.68,226.8 524.39,225.61 525.1,224.36 525.8,223.06 526.51,221.71 527.22,220.31 527.92,218.87 528.63,217.38 529.34,215.84 530.05,214.26 530.75,212.63 531.46,210.97 532.17,209.27 532.87,207.53 533.58,205.75 534.29,203.94 535,202.1 535.7,200.23 536.41,198.33 537.12,196.41 537.82,194.46 538.53,192.48 539.24,190.49 539.94,188.48 540.65,186.44 541.36,184.4 542.07,182.34 542.77,180.27 543.48,178.19 544.19,176.1 544.89,174.01 545.6,171.91 545.6,172.89 544.89,175 544.19,177.1 543.48,179.21 542.77,181.31 542.07,183.4 541.36,185.48 540.65,187.55 539.94,189.61 539.24,191.65 538.53,193.67 537.82,195.68 537.12,197.66 536.41,199.62 535.7,201.55 535,203.45 534.29,205.33 533.58,207.17 532.87,208.98 532.17,210.76 531.46,212.5 530.75,214.19 530.05,215.85 529.34,217.47 528.63,219.04 527.92,220.57 527.22,222.05 526.51,223.48 525.8,224.86 525.1,226.19 524.39,227.47 523.68,228.69 522.98,229.86 522.27,230.97 521.56,232.02 520.86,233.02 520.15,233.96 519.44,234.83 518.73,235.65 518.03,236.4 517.32,237.09 516.61,237.72 515.91,238.28 515.2,238.78 514.49,239.21 513.79,239.57 513.08,239.87 512.37,240.11 511.66,240.28 510.96,240.38 510.25,240.41 509.54,240.38 508.84,240.28 508.13,240.11 507.42,239.87 506.72,239.57 506.01,239.21 505.3,238.78 504.59,238.28 503.89,237.72 503.18,237.09 502.47,236.4 501.77,235.65 501.06,234.83 500.35,233.96 499.65,233.02 498.94,232.02 498.23,230.97 497.52,229.86 496.82,228.69 496.11,227.47 495.4,226.19 494.7,224.86 493.99,223.48 493.28,222.05 492.58,220.57 491.87,219.04 491.16,217.47 490.45,215.85 489.75,214.19 489.04,212.5 488.33,210.76 487.63,208.98 486.92,207.17 486.21,205.33 485.5,203.45 484.8,201.55 484.09,199.62 483.38,197.66 482.68,195.68 481.97,193.67 481.26,191.65 480.56,189.61 479.85,187.55 479.14,185.48 478.44,183.4 477.73,181.31 477.02,179.21 476.31,177.1 475.61,175 474.9,172.83 474.19,170.73 473.49,168.63 472.78,166.55 472.07,164.46 471.37,162.39 470.66,160.33 469.95,158.28 469.24,156.25 468.54,154.24 467.83,152.24 467.12,150.26 466.42,148.31 465.71,146.38 465,144.48 464.3,142.61 463.59,140.76 462.88,138.95 462.17,137.18 461.47,135.43 460.76,133.73 460.05,132.06 459.35,130.44 458.64,128.86 457.93,127.32 457.23,125.82 456.52,124.37 455.81,122.97 455.1,121.62 454.4,120.32 453.69,119.07 452.98,117.88 452.28,116.73 451.57,115.65 450.86,114.62 450.15,113.64 449.45,112.73 448.74,111.87 448.03,111.08 447.33,110.34 446.62,109.67 445.91,109.06 445.21,108.51 444.5,108.03 443.79,107.6 443.08,107.25 442.38,106.95 441.67,106.73 440.96,106.56 440.26,106.47 439.55,106.43 438.84,106.47 438.14,106.56 437.43,106.73 436.72,106.95 436.01,107.25 435.31,107.6 434.6,108.03 433.89,108.51 433.19,109.06 432.48,109.67 431.77,110.34 431.07,111.08 430.36,111.87 429.65,112.73 428.94,113.64 428.24,114.62 427.53,115.65 426.82,116.73 426.12,117.88 425.41,119.07 424.7,120.32 424,121.62 423.29,122.97 422.58,124.37 421.88,125.82 421.17,127.32 420.46,128.86 419.75,130.44 419.05,132.06 418.34,133.73 417.63,135.43 416.93,137.18 416.22,138.95 415.51,140.76 414.81,142.61 414.1,144.48 413.39,146.38 412.68,148.31 411.98,150.26 411.27,152.24 410.56,154.24 409.86,156.25 409.15,158.28 408.44,160.33 407.74,162.39 407.03,164.46 406.32,166.55 405.61,168.63 404.91,170.73 404.2,172.83"/><polygon fill="#ff00ff" stroke="#ff00ff" stroke-width="0.7" stroke-linejoin="round" points="404.2,171.99 404.91,170.12 405.61,168.25 406.32,166.38 407.03,164.52 407.74,162.66 408.44,160.81 409.15,158.97 409.86,157.14 410.56,155.33 411.27,153.53 411.98,151.75 412.68,149.99 413.39,148.25 414.1,146.53 414.81,144.84 415.51,143.17 416.22,141.54 416.93,139.93 417.63,138.35 418.34,136.81 419.05,135.3 419.75,133.83 420.46,132.39 421.17,131 421.88,129.64 422.58,128.33 423.29,127.06 424,125.83 424.7,124.65 425.41,123.51 426.12,122.43 426.82,121.39 427.53,120.4 428.24,119.46 428.94,118.58 429.65,117.75 430.36,116.97 431.07,116.25 431.77,115.58 432.48,114.97 433.19,114.41 433.89,113.91 434.6,113.47 435.31,113.09 436.01,112.76 436.72,112.49 437.43,112.29 438.14,112.14 438.84,112.05 439.55,112.02 440.26,112.05 440.96,112.14 441.67,112.29 442.38,112.49 443.08,112.76 443.79,113.09 444.5,113.47 445.21,113.91 445.91,114.41 446.62,114.97 447.33,115.58 448.03,116.25 448.74,116.97 449.45,117.75 450.15,118.58 450.86,119.46 451.57,120.4 452.28,121.39 452.98,122.43 453.69,123.51 454.4,124.65 455.1,125.83 455.81,127.06 456.52,128.33 457.23,129.64 457.93,131 458.64,132.39 459.35,133.83 460.05,135.3 460.76,136.81 461.47,138.35 462.17,139.93 462.88,141.54 463.59,143.17 464.3,144.84 465,146.53 465.71,148.25 466.42,149.99 467.12,151.75 467.83,153.53 468.54,155.33 469.24,157.14 469.95,158.97 470.66,160.81 471.37,162.66 472.07,164.52 472.78,166.38 473.49,168.25 474.19,170.12 474.9,171.99 475.61,173.8 476.31,175.66 477.02,177.52 477.73,179.36 478.44,181.2 479.14,183.03 479.85,184.85 480.56,186.66 481.26,188.45 481.97,190.22 482.68,191.97 483.38,193.7 484.09,195.41 484.8,197.1 485.5,198.76 486.21,200.4 486.92,202.01 487.63,203.58 488.33,205.13 489.04,206.64 489.75,208.12 490.45,209.56 491.16,210.96 491.87,212.33 492.58,213.66 493.28,214.94 493.99,216.18 494.7,217.38 495.4,218.53 496.11,219.64 496.82,220.7 497.52,221.71 498.23,222.68 498.94,223.59 499.65,224.45 500.35,225.26 501.06,226.02 501.77,226.73 502.47,227.38 503.18,227.98 503.89,228.52 504.59,229 505.3,229.43 506.01,229.81 506.72,230.12 507.42,230.38 508.13,230.59 508.84,230.73 509.54,230.82 510.25,230.85 510.96,230.82 511.66,230.73 512.37,230.59 513.08,230.38 513.79,230.12 514.49,229.81 515.2,229.43 515.91,229 516.61,228.52 517.32,227.98 518.03,227.38 518.73,226.73 519.44,226.02 520.15,225.26 520.86,224.45 521.56,223.59 522.27,222.68 522.98,221.71 523.68,220.7 524.39,219.64 525.1,218.53 525.8,217.38 526.51,216.18 527.22,214.94 527.92,213.66 528.63,212.33 529.34,210.96 530.05,209.56 530.75,208.12 531.46,206.64 532.17,205.13 532.87,203.58 533.58,202.01 534.29,200.4 535,198.76 535.7,197.1 536.41,195.41 537.12,193.7 537.82,191.97 538.53,190.22 539.24,188.45 539.94,186.66 540.65,184.85 541.36,183.03 542.07,181.2 542.77,179.36 543.48,177.52 544.19,175.66 544.89,173.8 545.6,171.93 545.6,172.87 544.89,174.74 544.19,176.61 543.48,178.48 542.77,180.35 542.07,182.21 541.36,184.06 540.65,185.9 539.94,187.73 539.24,189.54 538.53,191.34 537.82,193.13 537.12,194.89 536.41,196.63 535.7,198.35 535,200.04 534.29,201.71 533.58,203.35 532.87,204.96 532.17,206.54 531.46,208.08 530.75,209.6 530.05,211.07 529.34,212.51 528.63,213.91 527.92,215.26 527.22,216.58 526.51,217.85 525.8,219.08 525.1,220.27 524.39,221.4 523.68,222.49 522.98,223.53 522.27,224.52 521.56,225.46 520.86,226.34 520.15,227.18 519.44,227.96 518.73,228.68 518.03,229.35 517.32,229.96 516.61,230.52 515.91,231.02 515.2,231.46 514.49,231.85 513.79,232.17 513.08,232.44 512.37,232.65 511.66,232.8 510.96,232.89 510.25,232.92 509.54,232.89 508.84,232.8 508.13,232.65 507.42,232.44 506.72,232.17 506.01,231.85 505.3,231.46 504.59,231.02 503.89,230.52 503.18,229.96 502.47,229.35 501.77,228.68 501.06,227.96 500.35,227.18 499.65,226.34 498.94,225.46 498.23,224.52 497.52,223.53 496.82,222.49 496.11,221.4 495.4,220.27 494.7,219.08 493.99,217.85 493.28,216.58 492.58,215.26 491.87,213.91 491.16,212.51 490.45,211.07 489.75,209.6 489.04,208.08 488.33,206.54 487.63,204.96 486.92,203.35 486.21,201.71 485.5,200.04 484.8,198.35 484.09,196.63 483.38,194.89 482.68,193.13 481.97,191.34 481.26,189.54 480.56,187.73 479.85,185.9 479.14,184.06 478.44,182.21 477.73,180.35 477.02,178.48 476.31,176.61 475.61,174.74 474.9,172.8 474.19,170.94 473.49,169.08 472.78,167.22 472.07,165.37 471.37,163.53 470.66,161.7 469.95,159.88 469.24,158.07 468.54,156.28 467.83,154.51 467.12,152.75 466.42,151.02 465.71,149.31 465,147.62 464.3,145.95 463.59,144.32 462.88,142.71 462.17,141.13 461.47,139.58 460.76,138.07 460.05,136.59 459.35,135.14 458.64,133.74 457.93,132.37 457.23,131.04 456.52,129.75 455.81,128.51 455.1,127.31 454.4,126.15 453.69,125.04 452.98,123.98 452.28,122.97 451.57,122 450.86,121.09 450.15,120.22 449.45,119.41 448.74,118.65 448.03,117.94 447.33,117.29 446.62,116.69 445.91,116.15 445.21,115.66 444.5,115.23 443.79,114.86 443.08,114.54 442.38,114.28 441.67,114.08 440.96,113.93 440.26,113.85 439.55,113.82 438.84,113.85 438.14,113.93 437.43,114.08 436.72,114.28 436.01,114.54 435.31,114.86 434.6,115.23 433.89,115.66 433.19,116.15 432.48,116.69 431.77,117.29 431.07,117.94 430.36,118.65 429.65,119.41 428.94,120.22 428.24,121.09 427.53,122 426.82,122.97 426.12,123.98 425.41,125.04 424.7,126.15 424,127.31 423.29,128.51 422.58,129.75 421.88,131.04 421.17,132.37 420.46,133.74 419.75,135.14 419.05,136.59 418.34,138.07 417.63,139.58 416.93,141.13 416.22,142.71 415.51,144.32 414.81,145.95 414.1,147.62 413.39,149.31 412.68,151.02 411.98,152.75 411.27,154.51 410.56,156.28 409.86,158.07 409.15,159.88 408.44,161.7 407.74,163.53 407.03,165.37 406.32,167.22 405.61,169.08 404.91,170.94 404.2,172.8"/><polygon fill="#ffff00" stroke="#ffff00" stroke-width="0.7" stroke-linejoin="round" points="404.2,172.08 404.91,170.4 405.61,168.72 406.32,167.04 407.03,165.36 407.74,163.69 408.44,162.02 409.15,160.37 409.86,158.72 410.56,157.09 411.27,155.48 411.98,153.88 412.68,152.29 413.39,150.73 414.1,149.18 414.81,147.66 415.51,146.17 416.22,144.69 416.93,143.25 417.63,141.83 418.34,140.45 419.05,139.09 419.75,137.77 420.46,136.48 421.17,135.22 421.88,134 422.58,132.82 423.29,131.68 424,130.58 424.7,129.51 425.41,128.5 426.12,127.52 426.82,126.59 427.53,125.7 428.24,124.86 428.94,124.06 429.65,123.32 430.36,122.62 431.07,121.97 431.77,121.37 432.48,120.81 433.19,120.31 433.89,119.87 434.6,119.47 435.31,119.13 436.01,118.83 436.72,118.59 437.43,118.41 438.14,118.27 438.84,118.19 439.55,118.17 440.26,118.19 440.96,118.27 441.67,118.41 442.38,118.59 443.08,118.83 443.79,119.13 444.5,119.47 445.21,119.87 445.91,120.31 446.62,120.81 447.33,121.37 448.03,121.97 448.74,122.62 449.45,123.32 450.15,124.06 450.86,124.86 451.57,125.7 452.28,126.59 452.98,127.52 453.69,128.5 454.4,129.51 455.1,130.58 455.81,131.68 456.52,132.82 457.23,134 457.93,135.22 458.64,136.48 459.35,137.77 460.05,139.09 460.76,140.45 461.47,141.83 462.17,143.25 462.88,144.69 463.59,146.17 464.3,147.66 465,149.18 465.71,150.73 466.42,152.29 467.12,153.88 467.83,155.48 468.54,157.09 469.24,158.72 469.95,160.37 470.66,162.02 471.37,163.69 472.07,165.36 472.78,167.04 473.49,168.72 474.19,170.4 474.9,172.08 475.61,173.72 476.31,175.39 477.02,177.06 477.73,178.73 478.44,180.38 479.14,182.03 479.85,183.67 480.56,185.3 481.26,186.91 481.97,188.5 482.68,190.08 483.38,191.65 484.09,193.19 484.8,194.71 485.5,196.21 486.21,197.68 486.92,199.13 487.63,200.55 488.33,201.94 489.04,203.3 489.75,204.64 490.45,205.94 491.16,207.2 491.87,208.43 492.58,209.63 493.28,210.79 493.99,211.91 494.7,212.99 495.4,214.03 496.11,215.02 496.82,215.98 497.52,216.89 498.23,217.76 498.94,218.59 499.65,219.36 500.35,220.1 501.06,220.78 501.77,221.41 502.47,222 503.18,222.54 503.89,223.03 504.59,223.47 505.3,223.85 506.01,224.19 506.72,224.48 507.42,224.71 508.13,224.89 508.84,225.02 509.54,225.1 510.25,225.13 510.96,225.1 511.66,225.02 512.37,224.89 513.08,224.71 513.79,224.48 514.49,224.19 515.2,223.85 515.91,223.47 516.61,223.03 517.32,222.54 518.03,222 518.73,221.41 519.44,220.78 520.15,220.1 520.86,219.36 521.56,218.59 522.27,217.76 522.98,216.89 523.68,215.98 524.39,215.02 525.1,214.03 525.8,212.99 526.51,211.91 527.22,210.79 527.92,209.63 528.63,208.43 529.34,207.2 530.05,205.94 530.75,204.64 531.46,203.3 532.17,201.94 532.87,200.55 533.58,199.13 534.29,197.68 535,196.21 535.7,194.71 536.41,193.19 537.12,191.65 537.82,190.08 538.53,188.5 539.24,186.91 539.94,185.3 540.65,183.67 541.36,182.03 542.07,180.38 542.77,178.73 543.48,177.06 544.19,175.39 544.89,173.72 545.6,172.04 545.6,172.76 544.89,174.45 544.19,176.13 543.48,177.81 542.77,179.49 542.07,181.16 541.36,182.83 540.65,184.49 539.94,186.13 539.24,187.76 538.53,189.38 537.82,190.98 537.12,192.57 536.41,194.13 535.7,195.68 535,197.2 534.29,198.7 533.58,200.17 532.87,201.62 532.17,203.04 531.46,204.43 530.75,205.79 530.05,207.11 529.34,208.4 528.63,209.66 527.92,210.88 527.22,212.06 526.51,213.21 525.8,214.31 525.1,215.37 524.39,216.39 523.68,217.37 522.98,218.31 522.27,219.19 521.56,220.04 520.86,220.83 520.15,221.58 519.44,222.28 518.73,222.93 518.03,223.53 517.32,224.09 516.61,224.59 515.91,225.04 515.2,225.43 514.49,225.78 513.79,226.07 513.08,226.31 512.37,226.5 511.66,226.63 510.96,226.71 510.25,226.74 509.54,226.71 508.84,226.63 508.13,226.5 507.42,226.31 506.72,226.07 506.01,225.78 505.3,225.43 504.59,225.04 503.89,224.59 503.18,224.09 502.47,223.53 501.77,222.93 501.06,222.28 500.35,221.58 499.65,220.83 498.94,220.04 498.23,219.19 497.52,218.31 496.82,217.37 496.11,216.39 495.4,215.37 494.7,214.31 493.99,213.21 493.28,212.06 492.58,210.88 491.87,209.66 491.16,208.4 490.45,207.11 489.75,205.79 489.04,204.43 488.33,203.04 487.63,201.62 486.92,200.17 486.21,198.7 485.5,197.2 484.8,195.68 484.09,194.13 483.38,192.57 482.68,190.98 481.97,189.38 481.26,187.76 480.56,186.13 479.85,184.49 479.14,182.83 478.44,181.16 477.73,179.49 477.02,177.81 476.31,176.13 475.61,174.45 474.9,172.71 474.19,171.04 473.49,169.36 472.78,167.69 472.07,166.02 471.37,164.36 470.66,162.72 469.95,161.08 469.24,159.45 468.54,157.84 467.83,156.24 467.12,154.66 466.42,153.09 465.71,151.55 465,150.03 464.3,148.53 463.59,147.05 462.88,145.6 462.17,144.18 461.47,142.79 460.76,141.42 460.05,140.09 459.35,138.79 458.64,137.52 457.93,136.29 457.23,135.09 456.52,133.93 455.81,132.81 455.1,131.73 454.4,130.69 453.69,129.69 452.98,128.73 452.28,127.81 451.57,126.94 450.86,126.12 450.15,125.34 449.45,124.61 448.74,123.92 448.03,123.29 447.33,122.7 446.62,122.16 445.91,121.67 445.21,121.23 444.5,120.84 443.79,120.5 443.08,120.22 442.38,119.98 441.67,119.8 440.96,119.67 440.26,119.59 439.55,119.57 438.84,119.59 438.14,119.67 437.43,119.8 436.72,119.98 436.01,120.22 435.31,120.5 434.6,120.84 433.89,121.23 433.19,121.67 432.48,122.16 431.77,122.7 431.07,123.29 430.36,123.92 429.65,124.61 428.94,125.34 428.24,126.12 427.53,126.94 426.82,127.81 426.12,128.73 425.41,129.69 424.7,130.69 424,131.73 423.29,132.81 422.58,133.93 421.88,135.09 421.17,136.29 420.46,137.52 419.75,138.79 419.05,140.09 418.34,141.42 417.63,142.79 416.93,144.18 416.22,145.6 415.51,147.05 414.81,148.53 414.1,150.03 413.39,151.55 412.68,153.09 411.98,154.66 411.27,156.24 410.56,157.84 409.86,159.45 409.15,161.08 408.44,162.72 407.74,164.36 407.03,166.02 406.32,167.69 405.61,169.36 404.91,171.04 404.2,172.71"/><polygon fill="#000000" stroke="#000000" stroke-width="0.7" stroke-linejoin="round" points="404.2,172.11 404.91,170.58 405.61,169.05 406.32,167.52 407.03,165.99 407.74,164.47 408.44,162.96 409.15,161.45 409.86,159.96 410.56,158.48 411.27,157.01 411.98,155.55 412.68,154.11 413.39,152.69 414.1,151.29 414.81,149.9 415.51,148.54 416.22,147.2 416.93,145.89 417.63,144.6 418.34,143.34 419.05,142.11 419.75,140.9 420.46,139.73 421.17,138.59 421.88,137.48 422.58,136.41 423.29,135.37 424,134.37 424.7,133.4 425.41,132.48 426.12,131.59 426.82,130.74 427.53,129.93 428.24,129.17 428.94,128.44 429.65,127.76 430.36,127.13 431.07,126.54 431.77,125.99 432.48,125.49 433.19,125.04 433.89,124.63 434.6,124.27 435.31,123.95 436.01,123.69 436.72,123.47 437.43,123.3 438.14,123.18 438.84,123.11 439.55,123.08 440.26,123.11 440.96,123.18 441.67,123.3 442.38,123.47 443.08,123.69 443.79,123.95 444.5,124.27 445.21,124.63 445.91,125.04 446.62,125.49 447.33,125.99 448.03,126.54 448.74,127.13 449.45,127.76 450.15,128.44 450.86,129.17 451.57,129.93 452.28,130.74 452.98,131.59 453.69,132.48 454.4,133.4 455.1,134.37 455.81,135.37 456.52,136.41 457.23,137.48 457.93,138.59 458.64,139.73 459.35,140.9 460.05,142.11 460.76,143.34 461.47,144.6 462.17,145.89 462.88,147.2 463.59,148.54 464.3,149.9 465,151.29 465.71,152.69 466.42,154.11 467.12,155.55 467.83,157.01 468.54,158.48 469.24,159.96 469.95,161.45 470.66,162.96 471.37,164.47 472.07,165.99 472.78,167.52 473.49,169.05 474.19,170.58 474.9,172.11 475.61,173.59 476.31,175.11 477.02,176.63 477.73,178.14 478.44,179.65 479.14,181.15 479.85,182.64 480.56,184.12 481.26,185.58 481.97,187.03 482.68,188.47 483.38,189.89 484.09,191.29 484.8,192.67 485.5,194.03 486.21,195.37 486.92,196.69 487.63,197.98 488.33,199.25 489.04,200.48 489.75,201.69 490.45,202.88 491.16,204.03 491.87,205.15 492.58,206.23 493.28,207.28 493.99,208.3 494.7,209.28 495.4,210.23 496.11,211.14 496.82,212.01 497.52,212.84 498.23,213.62 498.94,214.37 499.65,215.08 500.35,215.74 501.06,216.37 501.77,216.94 502.47,217.48 503.18,217.97 503.89,218.41 504.59,218.81 505.3,219.16 506.01,219.47 506.72,219.73 507.42,219.94 508.13,220.11 508.84,220.22 509.54,220.3 510.25,220.32 510.96,220.3 511.66,220.22 512.37,220.11 513.08,219.94 513.79,219.73 514.49,219.47 515.2,219.16 515.91,218.81 516.61,218.41 517.32,217.97 518.03,217.48 518.73,216.94 519.44,216.37 520.15,215.74 520.86,215.08 521.56,214.37 522.27,213.62 522.98,212.84 523.68,212.01 524.39,211.14 525.1,210.23 525.8,209.28 526.51,208.3 527.22,207.28 527.92,206.23 528.63,205.15 529.34,204.03 530.05,202.88 530.75,201.69 531.46,200.48 532.17,199.25 532.87,197.98 533.58,196.69 534.29,195.37 535,194.03 535.7,192.67 536.41,191.29 537.12,189.89 537.82,188.47 538.53,187.03 539.24,185.58 539.94,184.12 540.65,182.64 541.36,181.15 542.07,179.65 542.77,178.14 543.48,176.63 544.19,175.11 544.89,173.59 545.6,172.06 545.6,172.74 544.89,174.27 544.19,175.8 543.48,177.33 542.77,178.85 542.07,180.37 541.36,181.89 540.65,183.39 539.94,184.89 539.24,186.37 538.53,187.85 537.82,189.3 537.12,190.74 536.41,192.17 535.7,193.57 535,194.96 534.29,196.32 533.58,197.66 532.87,198.97 532.17,200.26 531.46,201.53 530.75,202.76 530.05,203.97 529.34,205.14 528.63,206.28 527.92,207.39 527.22,208.47 526.51,209.51 525.8,210.51 525.1,211.48 524.39,212.41 523.68,213.3 522.98,214.15 522.27,214.95 521.56,215.72 520.86,216.44 520.15,217.13 519.44,217.76 518.73,218.35 518.03,218.9 517.32,219.4 516.61,219.86 515.91,220.27 515.2,220.63 514.49,220.94 513.79,221.21 513.08,221.43 512.37,221.6 511.66,221.72 510.96,221.79 510.25,221.81 509.54,221.79 508.84,221.72 508.13,221.6 507.42,221.43 506.72,221.21 506.01,220.94 505.3,220.63 504.59,220.27 503.89,219.86 503.18,219.4 502.47,218.9 501.77,218.35 501.06,217.76 500.35,217.13 499.65,216.44 498.94,215.72 498.23,214.95 497.52,214.15 496.82,213.3 496.11,212.41 495.4,211.48 494.7,210.51 493.99,209.51 493.28,208.47 492.58,207.39 491.87,206.28 491.16,205.14 490.45,203.97 489.75,202.76 489.04,201.53 488.33,200.26 487.63,198.97 486.92,197.66 486.21,196.32 485.5,194.96 484.8,193.57 484.09,192.17 483.38,190.74 482.68,189.3 481.97,187.85 481.26,186.37 480.56,184.89 479.85,183.39 479.14,181.89 478.44,180.37 477.73,178.85 477.02,177.33 476.31,175.8 475.61,174.27 474.9,172.69 474.19,171.17 473.49,169.64 472.78,168.12 472.07,166.61 471.37,165.1 470.66,163.6 469.95,162.11 469.24,160.63 468.54,159.17 467.83,157.72 467.12,156.28 466.42,154.86 465.71,153.45 465,152.07 464.3,150.71 463.59,149.37 462.88,148.05 462.17,146.76 461.47,145.49 460.76,144.25 460.05,143.04 459.35,141.85 458.64,140.7 457.93,139.58 457.23,138.49 456.52,137.44 455.81,136.42 455.1,135.44 454.4,134.49 453.69,133.58 452.98,132.71 452.28,131.88 451.57,131.09 450.86,130.34 450.15,129.63 449.45,128.97 448.74,128.34 448.03,127.76 447.33,127.23 446.62,126.74 445.91,126.29 445.21,125.9 444.5,125.54 443.79,125.24 443.08,124.98 442.38,124.76 441.67,124.6 440.96,124.48 440.26,124.41 439.55,124.38 438.84,124.41 438.14,124.48 437.43,124.6 436.72,124.76 436.01,124.98 435.31,125.24 434.6,125.54 433.89,125.9 433.19,126.29 432.48,126.74 431.77,127.23 431.07,127.76 430.36,128.34 429.65,128.97 428.94,129.63 428.24,130.34 427.53,131.09 426.82,131.88 426.12,132.71 425.41,133.58 424.7,134.49 424,135.44 423.29,136.42 422.58,137.44 421.88,138.49 421.17,139.58 420.46,140.7 419.75,141.85 419.05,143.04 418.34,144.25 417.63,145.49 416.93,146.76 416.22,148.05 415.51,149.37 414.81,150.71 414.1,152.07 413.39,153.45 412.68,154.86 411.98,156.28 411.27,157.72 410.56,159.17 409.86,160.63 409.15,162.11 408.44,163.6 407.74,165.1 407.03,166.61 406.32,168.12 405.61,169.64 404.91,171.17 404.2,172.69"/><polygon fill="#0000ff" stroke="#0000ff" stroke-width="0.7" stroke-linejoin="round" points="404.2,172.17 404.91,170.77 405.61,169.37 406.32,167.97 407.03,166.57 407.74,165.18 408.44,163.79 409.15,162.42 409.86,161.05 410.56,159.69 411.27,158.34 411.98,157.01 412.68,155.69 413.39,154.39 414.1,153.1 414.81,151.84 415.51,150.59 416.22,149.37 416.93,148.16 417.63,146.98 418.34,145.83 419.05,144.7 419.75,143.6 420.46,142.53 421.17,141.48 421.88,140.47 422.58,139.48 423.29,138.53 424,137.62 424.7,136.73 425.41,135.88 426.12,135.07 426.82,134.3 427.53,133.56 428.24,132.86 428.94,132.19 429.65,131.57 430.36,130.99 431.07,130.45 431.77,129.95 432.48,129.49 433.19,129.08 433.89,128.7 434.6,128.37 435.31,128.09 436.01,127.84 436.72,127.64 437.43,127.49 438.14,127.38 438.84,127.31 439.55,127.29 440.26,127.31 440.96,127.38 441.67,127.49 442.38,127.64 443.08,127.84 443.79,128.09 444.5,128.37 445.21,128.7 445.91,129.08 446.62,129.49 447.33,129.95 448.03,130.45 448.74,130.99 449.45,131.57 450.15,132.19 450.86,132.86 451.57,133.56 452.28,134.3 452.98,135.07 453.69,135.88 454.4,136.73 455.1,137.62 455.81,138.53 456.52,139.48 457.23,140.47 457.93,141.48 458.64,142.53 459.35,143.6 460.05,144.7 460.76,145.83 461.47,146.98 462.17,148.16 462.88,149.37 463.59,150.59 464.3,151.84 465,153.1 465.71,154.39 466.42,155.69 467.12,157.01 467.83,158.34 468.54,159.69 469.24,161.05 469.95,162.42 470.66,163.79 471.37,165.18 472.07,166.57 472.78,167.97 473.49,169.37 474.19,170.77 474.9,172.17 475.61,173.54 476.31,174.94 477.02,176.33 477.73,177.72 478.44,179.1 479.14,180.47 479.85,181.84 480.56,183.2 481.26,184.54 481.97,185.87 482.68,187.19 483.38,188.49 484.09,189.78 484.8,191.05 485.5,192.3 486.21,193.53 486.92,194.74 487.63,195.92 488.33,197.08 489.04,198.22 489.75,199.33 490.45,200.42 491.16,201.47 491.87,202.5 492.58,203.5 493.28,204.46 493.99,205.4 494.7,206.3 495.4,207.17 496.11,208 496.82,208.8 497.52,209.56 498.23,210.29 498.94,210.97 499.65,211.62 500.35,212.23 501.06,212.81 501.77,213.34 502.47,213.83 503.18,214.28 503.89,214.68 504.59,215.05 505.3,215.37 506.01,215.65 506.72,215.89 507.42,216.09 508.13,216.24 508.84,216.35 509.54,216.41 510.25,216.44 510.96,216.41 511.66,216.35 512.37,216.24 513.08,216.09 513.79,215.89 514.49,215.65 515.2,215.37 515.91,215.05 516.61,214.68 517.32,214.28 518.03,213.83 518.73,213.34 519.44,212.81 520.15,212.23 520.86,211.62 521.56,210.97 522.27,210.29 522.98,209.56 523.68,208.8 524.39,208 525.1,207.17 525.8,206.3 526.51,205.4 527.22,204.46 527.92,203.5 528.63,202.5 529.34,201.47 530.05,200.42 530.75,199.33 531.46,198.22 532.17,197.08 532.87,195.92 533.58,194.74 534.29,193.53 535,192.3 535.7,191.05 536.41,189.78 537.12,188.49 537.82,187.19 538.53,185.87 539.24,184.54 539.94,183.2 540.65,181.84 541.36,180.47 542.07,179.1 542.77,177.72 543.48,176.33 544.19,174.94 544.89,173.54 545.6,172.14 545.6,172.66 544.89,174.06 544.19,175.46 543.48,176.87 542.77,178.26 542.07,179.66 541.36,181.04 540.65,182.42 539.94,183.79 539.24,185.15 538.53,186.5 537.82,187.83 537.12,189.15 536.41,190.46 535.7,191.74 535,193.01 534.29,194.26 533.58,195.48 532.87,196.69 532.17,197.87 531.46,199.02 530.75,200.15 530.05,201.26 529.34,202.33 528.63,203.38 527.92,204.39 527.22,205.38 526.51,206.33 525.8,207.25 525.1,208.13 524.39,208.98 523.68,209.79 522.98,210.57 522.27,211.31 521.56,212.01 520.86,212.67 520.15,213.3 519.44,213.88 518.73,214.42 518.03,214.92 517.32,215.38 516.61,215.8 515.91,216.17 515.2,216.5 514.49,216.79 513.79,217.03 513.08,217.23 512.37,217.39 511.66,217.5 510.96,217.56 510.25,217.59 509.54,217.56 508.84,217.5 508.13,217.39 507.42,217.23 506.72,217.03 506.01,216.79 505.3,216.5 504.59,216.17 503.89,215.8 503.18,215.38 502.47,214.92 501.77,214.42 501.06,213.88 500.35,213.3 499.65,212.67 498.94,212.01 498.23,211.31 497.52,210.57 496.82,209.79 496.11,208.98 495.4,208.13 494.7,207.25 493.99,206.33 493.28,205.38 492.58,204.39 491.87,203.38 491.16,202.33 490.45,201.26 489.75,200.15 489.04,199.02 488.33,197.87 487.63,196.69 486.92,195.48 486.21,194.26 485.5,193.01 484.8,191.74 484.09,190.46 483.38,189.15 482.68,187.83 481.97,186.5 481.26,185.15 480.56,183.79 479.85,182.42 479.14,181.04 478.44,179.66 477.73,178.26 477.02,176.87 476.31,175.46 475.61,174.06 474.9,172.62 474.19,171.23 473.49,169.83 472.78,168.43 472.07,167.05 471.37,165.66 470.66,164.29 469.95,162.92 469.24,161.56 468.54,160.22 467.83,158.89 467.12,157.57 466.42,156.26 465.71,154.98 465,153.71 464.3,152.46 463.59,151.23 462.88,150.02 462.17,148.83 461.47,147.67 460.76,146.53 460.05,145.41 459.35,144.33 458.64,143.27 457.93,142.24 457.23,141.24 456.52,140.28 455.81,139.34 455.1,138.44 454.4,137.57 453.69,136.73 452.98,135.93 452.28,135.17 451.57,134.45 450.86,133.76 450.15,133.11 449.45,132.5 448.74,131.92 448.03,131.39 447.33,130.9 446.62,130.45 445.91,130.04 445.21,129.68 444.5,129.35 443.79,129.07 443.08,128.83 442.38,128.64 441.67,128.49 440.96,128.38 440.26,128.31 439.55,128.29 438.84,128.31 438.14,128.38 437.43,128.49 436.72,128.64 436.01,128.83 435.31,129.07 434.6,129.35 433.89,129.68 433.19,130.04 432.48,130.45 431.77,130.9 431.07,131.39 430.36,131.92 429.65,132.5 428.94,133.11 428.24,133.76 427.53,134.45 426.82,135.17 426.12,135.93 425.41,136.73 424.7,137.57 424,138.44 423.29,139.34 422.58,140.28 421.88,141.24 421.17,142.24 420.46,143.27 419.75,144.33 419.05,145.41 418.34,146.53 417.63,147.67 416.93,148.83 416.22,150.02 415.51,151.23 414.81,152.46 414.1,153.71 413.39,154.98 412.68,156.26 411.98,157.57 411.27,158.89 410.56,160.22 409.86,161.56 409.15,162.92 408.44,164.29 407.74,165.66 407.03,167.05 406.32,168.43 405.61,169.83 404.91,171.23 404.2,172.62"/><polygon fill="#00ff00" stroke="#00ff00" stroke-width="0.7" stroke-linejoin="round" points="404.2,172.2 404.91,170.9 405.61,169.61 406.32,168.32 407.03,167.03 407.74,165.74 408.44,164.46 409.15,163.19 409.86,161.93 410.56,160.67 411.27,159.43 411.98,158.2 412.68,156.98 413.39,155.78 414.1,154.6 414.81,153.43 415.51,152.28 416.22,151.15 416.93,150.04 417.63,148.95 418.34,147.88 419.05,146.84 419.75,145.82 420.46,144.83 421.17,143.87 421.88,142.93 422.58,142.02 423.29,141.15 424,140.3 424.7,139.49 425.41,138.7 426.12,137.95 426.82,137.24 427.53,136.55 428.24,135.91 428.94,135.3 429.65,134.72 430.36,134.19 431.07,133.69 431.77,133.23 432.48,132.8 433.19,132.42 433.89,132.08 434.6,131.77 435.31,131.51 436.01,131.28 436.72,131.1 437.43,130.95 438.14,130.85 438.84,130.79 439.55,130.77 440.26,130.79 440.96,130.85 441.67,130.95 442.38,131.1 443.08,131.28 443.79,131.51 444.5,131.77 445.21,132.08 445.91,132.42 446.62,132.8 447.33,133.23 448.03,133.69 448.74,134.19 449.45,134.72 450.15,135.3 450.86,135.91 451.57,136.55 452.28,137.24 452.98,137.95 453.69,138.7 454.4,139.49 455.1,140.3 455.81,141.15 456.52,142.02 457.23,142.93 457.93,143.87 458.64,144.83 459.35,145.82 460.05,146.84 460.76,147.88 461.47,148.95 462.17,150.04 462.88,151.15 463.59,152.28 464.3,153.43 465,154.6 465.71,155.78 466.42,156.98 467.12,158.2 467.83,159.43 468.54,160.67 469.24,161.93 469.95,163.19 470.66,164.46 471.37,165.74 472.07,167.03 472.78,168.32 473.49,169.61 474.19,170.9 474.9,172.2 475.61,173.46 476.31,174.75 477.02,176.03 477.73,177.32 478.44,178.59 479.14,179.86 479.85,181.12 480.56,182.37 481.26,183.61 481.97,184.84 482.68,186.06 483.38,187.26 484.09,188.45 484.8,189.62 485.5,190.78 486.21,191.91 486.92,193.03 487.63,194.12 488.33,195.19 489.04,196.24 489.75,197.27 490.45,198.27 491.16,199.25 491.87,200.2 492.58,201.12 493.28,202.01 493.99,202.87 494.7,203.7 495.4,204.51 496.11,205.27 496.82,206.01 497.52,206.72 498.23,207.38 498.94,208.02 499.65,208.62 500.35,209.18 501.06,209.71 501.77,210.2 502.47,210.65 503.18,211.07 503.89,211.44 504.59,211.78 505.3,212.08 506.01,212.34 506.72,212.56 507.42,212.74 508.13,212.88 508.84,212.98 509.54,213.04 510.25,213.06 510.96,213.04 511.66,212.98 512.37,212.88 513.08,212.74 513.79,212.56 514.49,212.34 515.2,212.08 515.91,211.78 516.61,211.44 517.32,211.07 518.03,210.65 518.73,210.2 519.44,209.71 520.15,209.18 520.86,208.62 521.56,208.02 522.27,207.38 522.98,206.72 523.68,206.01 524.39,205.27 525.1,204.51 525.8,203.7 526.51,202.87 527.22,202.01 527.92,201.12 528.63,200.2 529.34,199.25 530.05,198.27 530.75,197.27 531.46,196.24 532.17,195.19 532.87,194.12 533.58,193.03 534.29,191.91 535,190.78 535.7,189.62 536.41,188.45 537.12,187.26 537.82,186.06 538.53,184.84 539.24,183.61 539.94,182.37 540.65,181.12 541.36,179.86 542.07,178.59 542.77,177.32 543.48,176.03 544.19,174.75 544.89,173.46 545.6,172.17 545.6,172.63 544.89,173.93 544.19,175.22 543.48,176.52 542.77,177.81 542.07,179.09 541.36,180.37 540.65,181.64 539.94,182.91 539.24,184.16 538.53,185.41 537.82,186.64 537.12,187.86 536.41,189.06 535.7,190.25 535,191.42 534.29,192.57 533.58,193.7 532.87,194.81 532.17,195.9 531.46,196.97 530.75,198.01 530.05,199.03 529.34,200.02 528.63,200.98 527.92,201.92 527.22,202.83 526.51,203.71 525.8,204.55 525.1,205.37 524.39,206.15 523.68,206.91 522.98,207.62 522.27,208.31 521.56,208.95 520.86,209.56 520.15,210.14 519.44,210.68 518.73,211.18 518.03,211.64 517.32,212.06 516.61,212.45 515.91,212.79 515.2,213.1 514.49,213.36 513.79,213.58 513.08,213.77 512.37,213.91 511.66,214.01 510.96,214.08 510.25,214.1 509.54,214.08 508.84,214.01 508.13,213.91 507.42,213.77 506.72,213.58 506.01,213.36 505.3,213.1 504.59,212.79 503.89,212.45 503.18,212.06 502.47,211.64 501.77,211.18 501.06,210.68 500.35,210.14 499.65,209.56 498.94,208.95 498.23,208.31 497.52,207.62 496.82,206.91 496.11,206.15 495.4,205.37 494.7,204.55 493.99,203.71 493.28,202.83 492.58,201.92 491.87,200.98 491.16,200.02 490.45,199.03 489.75,198.01 489.04,196.97 488.33,195.9 487.63,194.81 486.92,193.7 486.21,192.57 485.5,191.42 484.8,190.25 484.09,189.06 483.38,187.86 482.68,186.64 481.97,185.41 481.26,184.16 480.56,182.91 479.85,181.64 479.14,180.37 478.44,179.09 477.73,177.81 477.02,176.52 476.31,175.22 475.61,173.93 474.9,172.6 474.19,171.31 473.49,170.02 472.78,168.73 472.07,167.45 471.37,166.18 470.66,164.91 469.95,163.64 469.24,162.39 468.54,161.15 467.83,159.92 467.12,158.7 466.42,157.5 465.71,156.31 465,155.14 464.3,153.98 463.59,152.85 462.88,151.73 462.17,150.63 461.47,149.56 460.76,148.51 460.05,147.48 459.35,146.48 458.64,145.5 457.93,144.55 457.23,143.63 456.52,142.74 455.81,141.87 455.1,141.04 454.4,140.24 453.69,139.47 452.98,138.73 452.28,138.03 451.57,137.36 450.86,136.72 450.15,136.12 449.45,135.56 448.74,135.03 448.03,134.54 447.33,134.08 446.62,133.67 445.91,133.29 445.21,132.95 444.5,132.65 443.79,132.39 443.08,132.17 442.38,131.99 441.67,131.85 440.96,131.75 440.26,131.69 439.55,131.67 438.84,131.69 438.14,131.75 437.43,131.85 436.72,131.99 436.01,132.17 435.31,132.39 434.6,132.65 433.89,132.95 433.19,133.29 432.48,133.67 431.77,134.08 431.07,134.54 430.36,135.03 429.65,135.56 428.94,136.12 428.24,136.72 427.53,137.36 426.82,138.03 426.12,138.73 425.41,139.47 424.7,140.24 424,141.04 423.29,141.87 422.58,142.74 421.88,143.63 421.17,144.55 420.46,145.5 419.75,146.48 419.05,147.48 418.34,148.51 417.63,149.56 416.93,150.63 416.22,151.73 415.51,152.85 414.81,153.98 414.1,155.14 413.39,156.31 412.68,157.5 411.98,158.7 411.27,159.92 410.56,161.15 409.86,162.39 409.15,163.64 408.44,164.91 407.74,166.18 407.03,167.45 406.32,168.73 405.61,170.02 404.91,171.31 404.2,172.6"/><polygon fill="#ff0000" stroke="#ff0000" stroke-width="0.7" stroke-linejoin="round" points="404.2,172.22 404.91,171.02 405.61,169.82 406.32,168.62 407.03,167.42 407.74,166.22 408.44,165.04 409.15,163.86 409.86,162.68 410.56,161.52 411.27,160.37 411.98,159.22 412.68,158.09 413.39,156.98 414.1,155.88 414.81,154.79 415.51,153.73 416.22,152.68 416.93,151.64 417.63,150.63 418.34,149.65 419.05,148.68 419.75,147.73 420.46,146.81 421.17,145.92 421.88,145.05 422.58,144.21 423.29,143.39 424,142.61 424.7,141.85 425.41,141.12 426.12,140.43 426.82,139.76 427.53,139.13 428.24,138.53 428.94,137.96 429.65,137.43 430.36,136.93 431.07,136.47 431.77,136.04 432.48,135.65 433.19,135.29 433.89,134.97 434.6,134.69 435.31,134.45 436.01,134.24 436.72,134.07 437.43,133.93 438.14,133.84 438.84,133.78 439.55,133.76 440.26,133.78 440.96,133.84 441.67,133.93 442.38,134.07 443.08,134.24 443.79,134.45 444.5,134.69 445.21,134.97 445.91,135.29 446.62,135.65 447.33,136.04 448.03,136.47 448.74,136.93 449.45,137.43 450.15,137.96 450.86,138.53 451.57,139.13 452.28,139.76 452.98,140.43 453.69,141.12 454.4,141.85 455.1,142.61 455.81,143.39 456.52,144.21 457.23,145.05 457.93,145.92 458.64,146.81 459.35,147.73 460.05,148.68 460.76,149.65 461.47,150.63 462.17,151.64 462.88,152.68 463.59,153.73 464.3,154.79 465,155.88 465.71,156.98 466.42,158.09 467.12,159.22 467.83,160.37 468.54,161.52 469.24,162.68 469.95,163.86 470.66,165.04 471.37,166.22 472.07,167.42 472.78,168.62 473.49,169.82 474.19,171.02 474.9,172.22 475.61,173.39 476.31,174.59 477.02,175.78 477.73,176.97 478.44,178.16 479.14,179.34 479.85,180.51 480.56,181.67 481.26,182.82 481.97,183.97 482.68,185.1 483.38,186.21 484.09,187.32 484.8,188.4 485.5,189.48 486.21,190.53 486.92,191.57 487.63,192.58 488.33,193.58 489.04,194.55 489.75,195.51 490.45,196.44 491.16,197.34 491.87,198.23 492.58,199.08 493.28,199.91 493.99,200.71 494.7,201.48 495.4,202.23 496.11,202.94 496.82,203.63 497.52,204.28 498.23,204.9 498.94,205.49 499.65,206.05 500.35,206.57 501.06,207.06 501.77,207.52 502.47,207.94 503.18,208.32 503.89,208.67 504.59,208.99 505.3,209.27 506.01,209.51 506.72,209.71 507.42,209.88 508.13,210.01 508.84,210.1 509.54,210.16 510.25,210.18 510.96,210.16 511.66,210.1 512.37,210.01 513.08,209.88 513.79,209.71 514.49,209.51 515.2,209.27 515.91,208.99 516.61,208.67 517.32,208.32 518.03,207.94 518.73,207.52 519.44,207.06 520.15,206.57 520.86,206.05 521.56,205.49 522.27,204.9 522.98,204.28 523.68,203.63 524.39,202.94 525.1,202.23 525.8,201.48 526.51,200.71 527.22,199.91 527.92,199.08 528.63,198.23 529.34,197.34 530.05,196.44 530.75,195.51 531.46,194.55 532.17,193.58 532.87,192.58 533.58,191.57 534.29,190.53 535,189.48 535.7,188.4 536.41,187.32 537.12,186.21 537.82,185.1 538.53,183.97 539.24,182.82 539.94,181.67 540.65,180.51 541.36,179.34 542.07,178.16 542.77,176.97 543.48,175.78 544.19,174.59 544.89,173.39 545.6,172.19 545.6,172.61 544.89,173.81 544.19,175.01 543.48,176.21 542.77,177.41 542.07,178.6 541.36,179.79 540.65,180.97 539.94,182.15 539.24,183.31 538.53,184.47 537.82,185.61 537.12,186.74 536.41,187.86 535.7,188.96 535,190.04 534.29,191.11 533.58,192.16 532.87,193.2 532.17,194.21 531.46,195.2 530.75,196.16 530.05,197.11 529.34,198.03 528.63,198.93 527.92,199.8 527.22,200.64 526.51,201.45 525.8,202.24 525.1,203 524.39,203.73 523.68,204.42 522.98,205.09 522.27,205.72 521.56,206.32 520.86,206.89 520.15,207.42 519.44,207.92 518.73,208.39 518.03,208.82 517.32,209.21 516.61,209.56 515.91,209.88 515.2,210.17 514.49,210.41 513.79,210.62 513.08,210.79 512.37,210.93 511.66,211.02 510.96,211.08 510.25,211.1 509.54,211.08 508.84,211.02 508.13,210.93 507.42,210.79 506.72,210.62 506.01,210.41 505.3,210.17 504.59,209.88 503.89,209.56 503.18,209.21 502.47,208.82 501.77,208.39 501.06,207.92 500.35,207.42 499.65,206.89 498.94,206.32 498.23,205.72 497.52,205.09 496.82,204.42 496.11,203.73 495.4,203 494.7,202.24 493.99,201.45 493.28,200.64 492.58,199.8 491.87,198.93 491.16,198.03 490.45,197.11 489.75,196.16 489.04,195.2 488.33,194.21 487.63,193.2 486.92,192.16 486.21,191.11 485.5,190.04 484.8,188.96 484.09,187.86 483.38,186.74 482.68,185.61 481.97,184.47 481.26,183.31 480.56,182.15 479.85,180.97 479.14,179.79 478.44,178.6 477.73,177.41 477.02,176.21 476.31,175.01 475.61,173.81 474.9,172.58 474.19,171.38 473.49,170.18 472.78,168.99 472.07,167.8 471.37,166.61 470.66,165.43 469.95,164.26 469.24,163.1 468.54,161.94 467.83,160.8 467.12,159.67 466.42,158.55 465.71,157.45 465,156.36 464.3,155.29 463.59,154.23 462.88,153.2 462.17,152.18 461.47,151.18 460.76,150.2 460.05,149.25 459.35,148.32 458.64,147.41 457.93,146.53 457.23,145.67 456.52,144.84 455.81,144.04 455.1,143.27 454.4,142.52 453.69,141.8 452.98,141.12 452.28,140.47 451.57,139.84 450.86,139.25 450.15,138.69 449.45,138.17 448.74,137.68 448.03,137.22 447.33,136.8 446.62,136.42 445.91,136.07 445.21,135.75 444.5,135.47 443.79,135.23 443.08,135.03 442.38,134.86 441.67,134.73 440.96,134.64 440.26,134.58 439.55,134.56 438.84,134.58 438.14,134.64 437.43,134.73 436.72,134.86 436.01,135.03 435.31,135.23 434.6,135.47 433.89,135.75 433.19,136.07 432.48,136.42 431.77,136.8 431.07,137.22 430.36,137.68 429.65,138.17 428.94,138.69 428.24,139.25 427.53,139.84 426.82,140.47 426.12,141.12 425.41,141.8 424.7,142.52 424,143.27 423.29,144.04 422.58,144.84 421.88,145.67 421.17,146.53 420.46,147.41 419.75,148.32 419.05,149.25 418.34,150.2 417.63,151.18 416.93,152.18 416.22,153.2 415.51,154.23 414.81,155.29 414.1,156.36 413.39,157.45 412.68,158.55 411.98,159.67 411.27,160.8 410.56,161.94 409.86,163.1 409.15,164.26 408.44,165.43 407.74,166.61 407.03,167.8 406.32,168.99 405.61,170.18 404.91,171.38 404.2,172.58"/></g>
<circle cx="246" cy="4" r="0.6" fill="#333"/>
</g>
</svg>
</body></html>
